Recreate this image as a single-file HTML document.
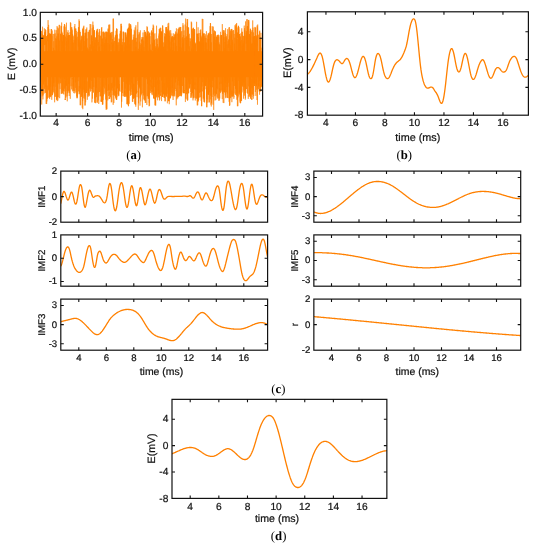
<!DOCTYPE html>
<html lang="en"><head><meta charset="utf-8"><title>Figure</title>
<style>html,body{margin:0;padding:0;background:#fff}svg{display:block}</style>
</head><body>
<svg width="537" height="550" viewBox="0 0 537 550" font-family="'Liberation Sans', Arial, sans-serif" fill="#111" stroke="#111" stroke-width="0.22" text-rendering="geometricPrecision">
<rect width="537" height="550" fill="#fff" stroke="none"/>
<rect x="40.30" y="51.26" width="222.30" height="25.94" fill="#ff8000" stroke="none"/>
<path d="M40.94,88.2 41.02,58.2 41.09,37.5 41.17,81.8 41.25,30.8 41.32,39.9 41.40,77.1 41.48,92.1 41.55,39.7 41.63,67.1 41.71,104.5 41.78,31.3 41.86,38.8 41.94,93.6 42.02,74.0 42.09,68.1 42.17,96.4 42.25,74.9 42.32,60.4 42.40,34.4 42.48,81.7 42.55,26.7 42.63,94.7 42.71,88.0 42.78,37.1 42.86,56.5 42.94,99.4 43.02,40.7 43.09,95.4 43.17,36.2 43.25,84.7 43.32,35.5 43.40,58.2 43.48,36.3 43.55,40.0 43.63,58.5 43.71,83.8 43.78,34.9 43.86,39.4 43.94,55.2 44.02,93.6 44.09,52.1 44.17,56.6 44.25,88.4 44.32,28.3 44.40,30.7 44.48,31.5 44.55,45.1 44.63,32.4 44.71,58.7 44.78,89.1 44.86,56.7 44.94,80.8 45.02,81.7 45.09,58.3 45.17,92.9 45.25,31.7 45.32,44.9 45.40,29.2 45.48,30.5 45.55,92.6 45.63,62.7 45.71,87.1 45.78,30.0 45.86,32.1 45.94,40.7 46.02,53.3 46.09,38.5 46.17,103.9 46.25,57.3 46.32,52.7 46.40,48.4 46.48,36.3 46.55,97.0 46.63,103.9 46.71,103.9 46.78,36.2 46.86,101.4 46.94,99.0 47.02,41.2 47.09,54.0 47.17,98.1 47.25,85.6 47.32,98.9 47.40,57.8 47.48,41.6 47.55,39.2 47.63,34.9 47.71,41.2 47.78,34.9 47.86,41.3 47.94,27.0 48.02,63.7 48.09,20.1 48.17,85.8 48.25,97.7 48.32,53.6 48.40,35.0 48.48,75.6 48.55,89.6 48.63,24.9 48.71,90.5 48.78,28.9 48.86,31.9 48.94,43.6 49.02,48.2 49.09,77.4 49.17,72.2 49.25,83.4 49.32,97.4 49.40,51.6 49.48,33.2 49.55,96.1 49.63,99.1 49.71,57.4 49.78,54.8 49.86,97.3 49.94,34.0 50.02,95.9 50.09,33.9 50.17,96.9 50.25,33.9 50.32,63.8 50.40,34.6 50.48,84.4 50.55,83.9 50.63,33.9 50.71,87.0 50.78,40.5 50.86,96.8 50.94,75.9 51.02,95.8 51.09,68.3 51.17,29.1 51.25,68.8 51.32,44.2 51.40,32.9 51.48,75.0 51.55,29.0 51.63,35.1 51.71,98.1 51.78,99.8 51.86,91.2 51.94,88.6 52.02,35.8 52.09,95.1 52.17,30.5 52.25,36.6 52.32,85.9 52.40,93.0 52.48,95.1 52.55,75.5 52.63,94.4 52.71,53.4 52.78,76.6 52.86,51.3 52.94,90.3 53.02,63.5 53.09,34.0 53.17,45.2 53.25,83.7 53.32,91.9 53.40,47.9 53.48,83.1 53.55,55.8 53.63,51.1 53.71,86.4 53.78,41.2 53.86,82.8 53.94,67.1 54.02,93.3 54.09,33.8 54.17,61.7 54.25,50.0 54.32,55.6 54.40,70.3 54.48,54.7 54.55,66.4 54.63,102.3 54.71,40.5 54.78,29.7 54.86,30.9 54.94,33.4 55.02,88.4 55.09,96.8 55.17,33.4 55.25,47.0 55.32,96.7 55.40,70.2 55.48,49.4 55.55,38.3 55.63,40.7 55.71,65.8 55.78,50.8 55.86,54.1 55.94,86.8 56.02,58.0 56.09,54.7 56.17,54.1 56.25,30.2 56.32,82.3 56.40,38.8 56.48,99.7 56.55,79.5 56.63,45.4 56.71,99.7 56.78,38.8 56.86,36.3 56.94,98.6 57.02,82.9 57.09,26.1 57.17,38.6 57.25,101.1 57.32,91.1 57.40,71.7 57.48,84.8 57.55,96.9 57.63,37.0 57.71,29.5 57.78,27.4 57.86,100.5 57.94,52.9 58.02,70.9 58.09,33.3 58.17,61.3 58.25,34.0 58.32,97.3 58.40,28.4 58.48,33.1 58.55,33.0 58.63,82.7 58.71,43.0 58.78,38.6 58.86,57.0 58.94,84.2 59.02,82.1 59.09,77.5 59.17,24.9 59.25,58.7 59.32,69.3 59.40,40.6 59.48,41.0 59.55,54.1 59.63,98.2 59.71,24.9 59.78,57.0 59.86,56.0 59.94,85.2 60.02,89.2 60.09,62.1 60.17,77.9 60.25,69.0 60.32,82.9 60.40,48.8 60.48,33.7 60.55,60.8 60.63,59.0 60.71,78.7 60.78,34.0 60.86,51.7 60.94,83.4 61.02,33.1 61.09,26.1 61.17,78.1 61.25,93.8 61.32,36.6 61.40,26.2 61.48,37.1 61.55,51.1 61.63,22.5 61.71,85.0 61.78,93.8 61.86,72.0 61.94,32.5 62.02,31.8 62.09,92.9 62.17,74.3 62.25,90.0 62.32,78.4 62.40,40.8 62.48,61.0 62.55,33.4 62.63,92.9 62.71,90.7 62.78,52.0 62.86,66.6 62.94,55.5 63.02,35.1 63.09,94.0 63.17,91.9 63.25,47.9 63.32,36.3 63.40,90.9 63.48,35.5 63.55,58.6 63.63,35.1 63.71,60.4 63.78,35.1 63.86,94.5 63.94,78.1 64.02,26.3 64.09,36.3 64.17,39.5 64.25,91.4 64.32,57.8 64.40,24.2 64.48,78.9 64.55,24.4 64.63,24.0 64.71,88.8 64.78,82.5 64.86,25.3 64.94,87.7 65.02,27.1 65.09,30.5 65.17,100.0 65.25,98.7 65.32,100.0 65.40,99.4 65.48,46.6 65.55,36.6 65.63,87.0 65.71,98.0 65.78,80.8 65.86,96.8 65.94,59.7 66.02,85.3 66.09,72.7 66.17,82.1 66.25,37.3 66.32,34.4 66.40,73.9 66.48,22.7 66.55,84.9 66.63,41.4 66.71,51.7 66.78,86.0 66.86,84.5 66.94,91.1 67.02,38.1 67.09,96.3 67.17,76.5 67.25,101.3 67.32,34.7 67.40,32.2 67.48,35.6 67.55,93.2 67.63,87.5 67.71,67.1 67.78,35.7 67.86,65.1 67.94,58.9 68.02,30.2 68.09,30.2 68.17,71.9 68.25,32.9 68.32,84.1 68.40,79.3 68.48,67.5 68.55,35.0 68.63,91.2 68.71,90.9 68.78,75.4 68.86,90.3 68.94,35.2 69.02,60.3 69.09,92.7 69.17,59.5 69.25,96.0 69.32,35.0 69.40,93.1 69.48,67.0 69.55,83.2 69.63,71.3 69.71,39.6 69.78,39.0 69.86,35.2 69.94,59.4 70.02,78.3 70.09,32.1 70.17,88.8 70.25,98.8 70.32,98.8 70.40,22.3 70.48,36.1 70.55,71.8 70.63,40.1 70.71,23.3 70.78,22.9 70.86,25.1 70.94,31.5 71.02,86.2 71.09,61.4 71.17,63.0 71.25,51.2 71.32,83.0 71.40,83.0 71.48,89.2 71.55,89.4 71.63,27.3 71.71,76.4 71.78,27.3 71.86,67.2 71.94,29.4 72.02,54.4 72.09,30.4 72.17,67.5 72.25,79.5 72.32,77.6 72.40,90.6 72.48,91.3 72.55,33.9 72.63,67.5 72.71,53.1 72.78,34.9 72.86,69.3 72.94,57.0 73.02,86.4 73.09,77.9 73.17,89.6 73.25,68.7 73.32,36.3 73.40,91.1 73.48,42.7 73.55,81.9 73.63,53.4 73.71,84.5 73.78,93.1 73.86,84.6 73.94,69.6 74.02,42.9 74.09,40.0 74.17,73.5 74.25,72.4 74.32,91.1 74.40,26.4 74.48,38.8 74.55,51.3 74.63,59.2 74.71,56.2 74.78,93.4 74.86,24.0 74.94,35.2 75.02,75.3 75.09,34.1 75.17,29.0 75.25,76.8 75.32,35.1 75.40,87.8 75.48,54.2 75.55,82.4 75.63,28.6 75.71,31.8 75.78,28.5 75.86,92.5 75.94,66.8 76.02,74.7 76.09,37.9 76.17,90.3 76.25,43.9 76.32,33.4 76.40,64.4 76.48,57.0 76.55,60.3 76.63,30.9 76.71,96.3 76.78,96.3 76.86,72.8 76.94,98.1 77.02,82.0 77.09,50.2 77.17,98.3 77.25,98.2 77.32,36.8 77.40,97.2 77.48,57.8 77.55,63.0 77.63,77.1 77.71,54.2 77.78,51.4 77.86,35.5 77.94,32.0 78.02,51.3 78.09,81.2 78.17,73.2 78.25,39.6 78.32,46.5 78.40,29.5 78.48,27.0 78.55,91.4 78.63,47.1 78.71,28.2 78.78,27.6 78.86,59.5 78.94,39.0 79.02,19.3 79.09,24.6 79.17,94.3 79.25,86.0 79.32,93.7 79.40,21.1 79.48,54.2 79.55,45.6 79.63,46.5 79.71,30.2 79.78,91.7 79.86,41.6 79.94,68.5 80.02,88.0 80.09,43.1 80.17,105.2 80.25,80.6 80.32,80.6 80.40,31.9 80.48,70.0 80.55,85.6 80.63,105.2 80.71,103.0 80.78,40.2 80.86,88.8 80.94,62.8 81.02,96.8 81.09,96.1 81.17,96.8 81.25,36.3 81.32,50.4 81.40,39.3 81.48,83.7 81.55,91.8 81.63,96.3 81.71,77.4 81.78,36.4 81.86,95.3 81.94,75.5 82.02,76.0 82.09,35.4 82.17,35.8 82.25,107.8 82.32,60.1 82.40,45.0 82.48,29.1 82.55,29.9 82.63,101.1 82.71,72.1 82.78,109.2 82.86,96.8 82.94,96.4 83.02,28.1 83.09,73.7 83.17,98.4 83.25,98.1 83.32,97.2 83.40,26.7 83.48,89.7 83.55,30.4 83.63,39.7 83.71,52.3 83.78,52.8 83.86,25.7 83.94,92.4 84.02,35.7 84.09,35.8 84.17,40.2 84.25,55.0 84.32,41.2 84.40,46.7 84.48,91.9 84.55,80.7 84.63,98.7 84.71,46.0 84.78,96.4 84.86,64.6 84.94,105.5 85.02,32.8 85.09,85.9 85.17,105.3 85.25,103.5 85.32,33.2 85.40,52.0 85.48,32.6 85.55,32.7 85.63,102.2 85.71,74.2 85.78,33.3 85.86,42.0 85.94,57.6 86.02,29.4 86.09,92.6 86.17,29.3 86.25,70.8 86.32,92.8 86.40,76.4 86.48,38.7 86.55,79.6 86.63,92.8 86.71,75.5 86.78,27.5 86.86,78.3 86.94,41.6 87.02,38.4 87.09,90.9 87.17,81.4 87.25,83.4 87.32,99.8 87.40,49.7 87.48,47.6 87.55,51.9 87.63,51.6 87.71,51.9 87.78,53.8 87.86,48.5 87.94,96.5 88.02,31.9 88.09,32.6 88.17,58.4 88.25,49.5 88.32,54.0 88.40,31.8 88.48,93.0 88.55,53.0 88.63,94.9 88.71,77.9 88.78,96.5 88.86,54.0 88.94,71.8 89.02,81.1 89.09,83.0 89.17,65.9 89.25,30.0 89.32,91.0 89.40,95.7 89.48,66.9 89.55,86.9 89.63,74.1 89.71,29.8 89.78,88.7 89.86,47.0 89.94,75.6 90.02,88.2 90.09,24.0 90.17,25.7 90.25,48.9 90.32,79.9 90.40,44.5 90.48,91.6 90.55,51.3 90.63,52.2 90.71,55.9 90.78,73.1 90.86,24.3 90.94,41.2 91.02,90.9 91.09,59.6 91.17,78.0 91.25,79.7 91.32,88.9 91.40,35.6 91.48,48.5 91.55,35.4 91.63,38.6 91.71,80.9 91.78,49.4 91.86,37.5 91.94,102.4 92.02,99.5 92.09,90.9 92.17,28.3 92.25,30.7 92.32,78.1 92.40,41.2 92.48,98.6 92.55,47.6 92.63,89.2 92.71,37.8 92.78,34.3 92.86,21.6 92.94,36.2 93.02,92.7 93.09,24.9 93.17,67.8 93.25,53.6 93.32,26.7 93.40,42.5 93.48,91.9 93.55,92.4 93.63,46.0 93.71,61.3 93.78,87.0 93.86,42.5 93.94,32.4 94.02,30.5 94.09,69.2 94.17,30.3 94.25,30.3 94.32,77.9 94.40,59.5 94.48,30.3 94.55,69.3 94.63,102.4 94.71,92.7 94.78,98.5 94.86,86.9 94.94,42.5 95.02,103.0 95.09,93.4 95.17,72.0 95.25,39.9 95.32,91.5 95.40,37.8 95.48,77.1 95.55,103.2 95.63,56.4 95.71,37.3 95.78,64.6 95.86,71.9 95.94,97.2 96.02,75.5 96.09,95.2 96.17,49.6 96.25,97.1 96.32,83.2 96.40,32.2 96.48,87.6 96.55,30.8 96.63,34.6 96.71,54.9 96.78,35.8 96.86,30.6 96.94,102.6 97.02,38.7 97.09,30.0 97.17,29.0 97.25,83.3 97.32,102.6 97.40,102.6 97.48,102.5 97.55,99.1 97.63,74.5 97.71,28.8 97.78,32.2 97.86,93.2 97.94,39.8 98.02,45.5 98.09,39.0 98.17,32.4 98.25,37.5 98.32,100.4 98.40,42.0 98.48,43.2 98.55,47.2 98.63,66.5 98.71,103.9 98.78,101.9 98.86,91.0 98.94,35.0 99.02,76.5 99.09,46.7 99.17,91.8 99.25,46.7 99.32,73.8 99.40,60.0 99.48,46.9 99.55,29.1 99.63,92.0 99.71,92.0 99.78,32.2 99.86,31.4 99.94,77.8 100.02,91.1 100.09,96.4 100.17,74.1 100.25,78.1 100.32,36.1 100.40,81.6 100.48,85.6 100.55,96.1 100.63,93.8 100.71,93.8 100.78,73.1 100.86,35.5 100.94,60.8 101.02,98.3 101.09,101.9 101.17,99.8 101.25,101.3 101.32,44.5 101.40,101.7 101.48,27.9 101.55,46.0 101.63,38.5 101.71,30.9 101.78,27.0 101.86,31.6 101.94,101.7 102.02,38.9 102.09,96.9 102.17,96.3 102.25,100.5 102.32,31.8 102.40,104.5 102.48,38.5 102.55,104.5 102.63,97.5 102.71,41.7 102.78,61.1 102.86,104.5 102.94,95.3 103.02,59.4 103.09,100.1 103.17,81.8 103.25,70.4 103.32,96.2 103.40,31.8 103.48,56.6 103.55,66.6 103.63,33.4 103.71,31.6 103.78,86.7 103.86,65.3 103.94,45.8 104.02,32.7 104.09,57.4 104.17,77.9 104.25,44.5 104.32,65.3 104.40,32.7 104.48,88.4 104.55,75.5 104.63,43.0 104.71,71.4 104.78,94.3 104.86,55.3 104.94,42.8 105.02,37.2 105.09,38.6 105.17,92.6 105.25,32.9 105.32,31.8 105.40,32.6 105.48,75.2 105.55,50.2 105.63,39.4 105.71,99.5 105.78,78.1 105.86,66.5 105.94,85.3 106.02,31.8 106.09,32.1 106.17,109.8 106.25,31.8 106.32,102.8 106.40,108.0 106.48,42.9 106.55,37.8 106.63,109.1 106.71,31.7 106.78,81.1 106.86,109.3 106.94,46.6 107.02,32.3 107.09,57.6 107.17,90.6 107.25,91.0 107.32,64.0 107.40,68.8 107.48,77.9 107.55,58.4 107.63,32.2 107.71,52.9 107.78,100.4 107.86,43.0 107.94,76.3 108.02,60.0 108.09,28.5 108.17,42.2 108.25,64.1 108.32,29.5 108.40,83.4 108.48,96.1 108.55,84.3 108.63,90.1 108.71,85.2 108.78,56.5 108.86,90.5 108.94,24.6 109.02,89.8 109.09,25.1 109.17,99.0 109.25,97.5 109.32,98.9 109.40,92.1 109.48,95.4 109.55,44.4 109.63,58.1 109.71,76.0 109.78,24.5 109.86,76.0 109.94,34.9 110.02,98.5 110.09,32.7 110.17,66.6 110.25,81.4 110.32,92.6 110.40,61.9 110.48,97.0 110.55,68.9 110.63,32.7 110.71,35.6 110.78,40.0 110.86,33.6 110.94,39.3 111.02,49.9 111.09,35.4 111.17,99.5 111.25,102.1 111.32,102.4 111.40,93.5 111.48,83.1 111.55,90.3 111.63,42.5 111.71,101.4 111.78,101.9 111.86,32.0 111.94,40.6 112.02,44.1 112.09,31.8 112.17,85.7 112.25,88.1 112.32,85.8 112.40,39.0 112.48,52.6 112.55,44.3 112.63,85.6 112.71,90.6 112.78,89.7 112.86,82.6 112.94,95.2 113.02,71.1 113.09,18.6 113.17,104.8 113.25,42.6 113.32,53.9 113.40,83.0 113.48,18.7 113.55,21.3 113.63,29.9 113.71,94.6 113.78,55.8 113.86,102.9 113.94,93.8 114.02,53.6 114.09,41.0 114.17,89.3 114.25,95.0 114.32,41.0 114.40,63.1 114.48,86.0 114.55,86.4 114.63,55.2 114.71,74.2 114.78,96.0 114.86,41.8 114.94,37.4 115.02,39.8 115.09,87.0 115.17,92.8 115.25,44.3 115.32,35.4 115.40,46.9 115.48,97.2 115.55,91.3 115.63,98.5 115.71,64.2 115.78,35.5 115.86,36.1 115.94,73.6 116.02,30.8 116.09,50.5 116.17,85.6 116.25,34.4 116.32,97.1 116.40,99.8 116.48,36.2 116.55,99.8 116.63,28.2 116.71,99.7 116.78,29.1 116.86,97.2 116.94,29.0 117.02,36.4 117.09,88.1 117.17,58.7 117.25,88.3 117.32,87.6 117.40,34.6 117.48,88.2 117.55,52.3 117.63,88.2 117.71,87.0 117.78,72.3 117.86,45.1 117.94,53.5 118.02,94.5 118.09,42.4 118.17,72.6 118.25,96.1 118.32,42.4 118.40,43.2 118.48,93.9 118.55,79.7 118.63,95.0 118.71,80.9 118.78,96.1 118.86,96.0 118.94,71.2 119.02,38.6 119.09,59.0 119.17,90.7 119.25,87.3 119.32,84.0 119.40,90.7 119.48,87.6 119.55,58.3 119.63,46.5 119.71,39.3 119.78,65.2 119.86,77.3 119.94,33.6 120.02,75.8 120.09,91.7 120.17,43.6 120.25,71.4 120.32,30.9 120.40,63.2 120.48,73.2 120.55,54.1 120.63,73.1 120.71,30.9 120.78,37.8 120.86,67.3 120.94,23.9 121.02,36.5 121.09,59.5 121.17,34.9 121.25,23.8 121.32,43.9 121.40,48.4 121.48,107.6 121.55,26.0 121.63,52.8 121.71,101.7 121.78,47.2 121.86,96.1 121.94,82.9 122.02,48.0 122.09,44.7 122.17,88.0 122.25,45.1 122.32,79.1 122.40,89.9 122.48,42.1 122.55,93.1 122.63,53.9 122.71,70.2 122.78,62.6 122.86,53.7 122.94,81.5 123.02,31.6 123.09,53.9 123.17,38.7 123.25,75.2 123.32,96.2 123.40,96.1 123.48,58.4 123.55,31.7 123.63,40.7 123.71,32.1 123.78,33.2 123.86,81.8 123.94,58.4 124.02,60.3 124.09,68.4 124.17,75.0 124.25,42.5 124.32,96.8 124.40,42.4 124.48,93.1 124.55,91.0 124.63,96.6 124.71,56.3 124.78,46.9 124.86,94.9 124.94,93.9 125.02,32.6 125.09,43.8 125.17,88.5 125.25,48.3 125.32,43.7 125.40,32.6 125.48,33.2 125.55,53.7 125.63,32.9 125.71,76.9 125.78,96.6 125.86,42.9 125.94,32.6 126.02,96.5 126.09,34.5 126.17,96.6 126.25,58.8 126.32,83.7 126.40,48.9 126.48,37.2 126.55,59.2 126.63,45.6 126.71,89.1 126.78,94.6 126.86,96.6 126.94,104.1 127.02,55.1 127.09,43.0 127.17,35.9 127.25,104.2 127.32,83.8 127.40,29.4 127.48,92.9 127.55,32.9 127.63,103.0 127.71,29.4 127.78,52.5 127.86,89.9 127.94,104.7 128.02,65.3 128.09,31.5 128.17,27.9 128.25,47.4 128.32,29.3 128.40,106.3 128.48,27.8 128.55,105.8 128.63,27.8 128.71,97.7 128.78,29.3 128.86,28.1 128.94,36.8 129.02,23.6 129.09,87.1 129.17,103.8 129.25,44.4 129.32,84.6 129.40,27.3 129.48,23.6 129.55,67.2 129.63,26.3 129.71,83.1 129.78,90.7 129.86,56.5 129.94,81.4 130.02,51.2 130.09,57.2 130.17,56.9 130.25,24.6 130.32,29.6 130.40,70.5 130.48,95.4 130.55,95.8 130.63,24.1 130.71,92.7 130.78,94.7 130.86,25.5 130.94,91.8 131.02,28.6 131.09,32.5 131.17,88.9 131.25,56.1 131.32,32.6 131.40,31.8 131.48,29.3 131.55,82.9 131.63,58.2 131.71,79.0 131.78,94.9 131.86,75.6 131.94,40.3 132.02,47.9 132.09,87.1 132.17,55.9 132.25,59.2 132.32,90.0 132.40,101.6 132.48,87.0 132.55,39.7 132.63,92.4 132.71,63.7 132.78,101.9 132.86,58.4 132.94,94.6 133.02,93.6 133.09,98.0 133.17,42.6 133.25,34.6 133.32,88.7 133.40,98.7 133.48,93.5 133.55,83.8 133.63,98.7 133.71,39.6 133.78,54.9 133.86,37.2 133.94,97.3 134.02,83.9 134.09,91.8 134.17,53.3 134.25,29.8 134.32,39.7 134.40,43.8 134.48,59.6 134.55,93.5 134.63,97.9 134.71,43.0 134.78,31.3 134.86,99.3 134.94,104.2 135.02,92.5 135.09,103.6 135.17,27.3 135.25,62.8 135.32,104.5 135.40,38.0 135.48,41.3 135.55,56.3 135.63,104.8 135.71,51.4 135.78,106.7 135.86,25.3 135.94,82.9 136.02,47.1 136.09,89.4 136.17,92.8 136.25,89.5 136.32,93.9 136.40,66.1 136.48,77.0 136.55,41.7 136.63,92.9 136.71,38.6 136.78,37.8 136.86,63.9 136.94,77.1 137.02,97.2 137.09,91.4 137.17,92.2 137.25,81.9 137.32,34.7 137.40,29.6 137.48,75.7 137.55,50.7 137.63,80.8 137.71,30.4 137.78,22.8 137.86,21.9 137.94,30.3 138.02,84.6 138.09,80.8 138.17,34.5 138.25,56.8 138.32,109.9 138.40,48.8 138.48,84.3 138.55,103.3 138.63,77.1 138.71,74.5 138.78,98.5 138.86,93.3 138.94,52.8 139.02,85.7 139.09,32.0 139.17,32.0 139.25,86.9 139.32,39.6 139.40,33.4 139.48,86.2 139.55,41.7 139.63,88.4 139.71,77.1 139.78,47.2 139.86,86.2 139.94,86.0 140.02,105.6 140.09,45.0 140.17,80.7 140.25,42.7 140.32,30.3 140.40,97.2 140.48,94.1 140.55,64.0 140.63,94.5 140.71,101.4 140.78,43.3 140.86,49.2 140.94,92.7 141.02,55.1 141.09,95.4 141.17,49.5 141.25,49.2 141.32,69.4 141.40,71.1 141.48,40.0 141.55,94.2 141.63,67.6 141.71,44.0 141.78,71.2 141.86,39.0 141.94,41.4 142.02,37.2 142.09,53.0 142.17,37.1 142.25,37.1 142.32,41.7 142.40,107.3 142.48,87.8 142.55,38.9 142.63,44.5 142.71,53.0 142.78,50.7 142.86,58.9 142.94,93.1 143.02,32.5 143.09,36.0 143.17,77.0 143.25,54.2 143.32,37.2 143.40,59.5 143.48,65.0 143.55,95.4 143.63,84.6 143.71,40.6 143.78,48.7 143.86,71.1 143.94,99.1 144.02,46.9 144.09,99.6 144.17,100.3 144.25,34.0 144.32,30.0 144.40,82.3 144.48,97.6 144.55,98.6 144.63,100.4 144.71,98.8 144.78,57.8 144.86,78.0 144.94,52.2 145.02,32.0 145.09,99.4 145.17,32.2 145.25,102.9 145.32,98.9 145.40,40.7 145.48,32.3 145.55,31.7 145.63,54.7 145.71,102.8 145.78,34.9 145.86,46.4 145.94,41.3 146.02,34.3 146.09,33.5 146.17,39.2 146.25,66.0 146.32,37.3 146.40,79.3 146.48,36.2 146.55,55.9 146.63,62.5 146.71,61.3 146.78,66.0 146.86,105.0 146.94,26.3 147.02,92.5 147.09,96.4 147.17,65.9 147.25,32.7 147.32,51.7 147.40,95.9 147.48,27.2 147.55,42.7 147.63,83.3 147.71,60.4 147.78,84.1 147.86,80.6 147.94,31.7 148.02,67.8 148.09,86.7 148.17,98.6 148.25,51.4 148.32,67.3 148.40,31.4 148.48,68.5 148.55,98.8 148.63,54.7 148.71,97.2 148.78,93.6 148.86,87.7 148.94,49.3 149.02,34.3 149.09,106.3 149.17,34.0 149.25,102.8 149.32,50.3 149.40,84.9 149.48,60.9 149.55,105.7 149.63,32.8 149.71,68.1 149.78,35.8 149.86,32.6 149.94,56.1 150.02,36.9 150.09,36.2 150.17,75.8 150.25,44.4 150.32,93.1 150.40,79.9 150.48,83.1 150.55,90.7 150.63,59.3 150.71,72.8 150.78,49.7 150.86,61.9 150.94,82.5 151.02,50.1 151.09,86.7 151.17,68.2 151.25,92.3 151.32,92.5 151.40,31.3 151.48,34.8 151.55,30.3 151.63,54.4 151.71,80.5 151.78,88.9 151.86,33.7 151.94,94.3 152.02,85.9 152.09,91.8 152.17,54.0 152.25,95.2 152.32,90.7 152.40,76.8 152.48,42.8 152.55,50.0 152.63,32.5 152.71,34.4 152.78,32.3 152.86,92.3 152.94,27.9 153.02,78.9 153.09,44.4 153.17,24.6 153.25,87.2 153.32,68.9 153.40,90.5 153.48,61.9 153.55,98.1 153.63,25.7 153.71,37.2 153.78,98.0 153.86,34.1 153.94,99.0 154.02,40.3 154.09,42.1 154.17,39.9 154.25,76.3 154.32,75.6 154.40,39.8 154.48,44.4 154.55,53.8 154.63,42.6 154.71,87.1 154.78,57.5 154.86,99.1 154.94,33.3 155.02,47.9 155.09,105.5 155.17,92.2 155.25,105.0 155.32,46.3 155.40,84.4 155.48,103.4 155.55,47.9 155.63,98.6 155.71,105.6 155.78,71.7 155.86,79.0 155.94,96.8 156.02,38.9 156.09,97.7 156.17,56.5 156.25,96.8 156.32,46.7 156.40,77.0 156.48,94.4 156.55,25.7 156.63,71.8 156.71,55.4 156.78,78.8 156.86,59.5 156.94,68.6 157.02,39.7 157.09,79.6 157.17,96.3 157.25,52.9 157.32,38.5 157.40,38.4 157.48,56.8 157.55,44.0 157.63,100.3 157.71,49.0 157.78,84.8 157.86,79.7 157.94,90.5 158.02,86.1 158.09,81.1 158.17,97.3 158.25,49.1 158.32,93.9 158.40,48.0 158.48,53.7 158.55,49.6 158.63,94.7 158.71,46.6 158.78,97.3 158.86,57.9 158.94,35.7 159.02,84.0 159.09,33.5 159.17,71.4 159.25,29.0 159.32,30.4 159.40,54.9 159.48,29.9 159.55,100.5 159.63,80.4 159.71,95.3 159.78,99.5 159.86,51.5 159.94,28.5 160.02,42.7 160.09,93.5 160.17,37.0 160.25,27.8 160.32,59.5 160.40,30.9 160.48,95.8 160.55,93.7 160.63,95.6 160.71,93.0 160.78,27.8 160.86,66.6 160.94,31.6 161.02,71.2 161.09,48.2 161.17,92.3 161.25,31.5 161.32,46.0 161.40,79.8 161.48,32.4 161.55,101.1 161.63,56.4 161.71,31.8 161.78,61.8 161.86,31.5 161.94,80.9 162.02,58.5 162.09,80.2 162.17,96.9 162.25,41.0 162.32,66.9 162.40,43.5 162.48,97.0 162.55,25.6 162.63,94.8 162.71,25.5 162.78,97.0 162.86,29.7 162.94,52.9 163.02,49.0 163.09,50.8 163.17,47.2 163.25,93.9 163.32,57.9 163.40,94.4 163.48,46.8 163.55,62.0 163.63,42.4 163.71,87.6 163.78,91.5 163.86,94.4 163.94,97.1 164.02,97.5 164.09,52.3 164.17,86.1 164.25,46.5 164.32,97.8 164.40,83.3 164.48,97.8 164.55,33.2 164.63,70.9 164.71,58.4 164.78,36.4 164.86,67.7 164.94,101.3 165.02,36.9 165.09,54.0 165.17,44.7 165.25,79.8 165.32,99.5 165.40,101.2 165.48,34.1 165.55,42.0 165.63,94.8 165.71,70.5 165.78,33.9 165.86,34.5 165.94,27.3 166.02,95.6 166.09,27.0 166.17,38.1 166.25,83.6 166.32,96.5 166.40,28.5 166.48,32.0 166.55,96.6 166.63,27.0 166.71,93.7 166.78,52.5 166.86,85.2 166.94,56.1 167.02,67.9 167.09,62.2 167.17,60.8 167.25,61.9 167.32,102.9 167.40,103.3 167.48,102.4 167.55,30.9 167.63,29.3 167.71,87.5 167.78,31.0 167.86,45.1 167.94,93.9 168.02,23.5 168.09,97.7 168.17,58.7 168.25,26.1 168.32,48.7 168.40,39.5 168.48,101.1 168.55,55.0 168.63,100.3 168.71,22.8 168.78,26.1 168.86,101.1 168.94,74.8 169.02,101.2 169.09,81.4 169.17,32.3 169.25,104.2 169.32,35.7 169.40,57.7 169.48,30.5 169.55,32.1 169.63,90.8 169.71,48.6 169.78,40.3 169.86,98.7 169.94,41.8 170.02,98.1 170.09,78.5 170.17,66.6 170.25,63.2 170.32,98.2 170.40,48.9 170.48,50.7 170.55,97.7 170.63,30.2 170.71,30.2 170.78,38.9 170.86,78.1 170.94,33.4 171.02,70.4 171.09,47.2 171.17,85.4 171.25,92.5 171.32,37.5 171.40,51.7 171.48,39.6 171.55,95.3 171.63,70.5 171.71,40.9 171.78,37.4 171.86,91.1 171.94,96.3 172.02,36.2 172.09,41.9 172.17,36.3 172.25,75.6 172.32,87.9 172.40,74.8 172.48,49.8 172.55,95.7 172.63,58.7 172.71,57.5 172.78,36.2 172.86,93.0 172.94,69.5 173.02,37.8 173.09,100.0 173.17,40.4 173.25,33.3 173.32,40.7 173.40,68.2 173.48,38.3 173.55,37.1 173.63,96.3 173.71,89.0 173.78,70.2 173.86,42.7 173.94,66.3 174.02,78.5 174.09,95.7 174.17,92.9 174.25,74.1 174.32,94.3 174.40,34.7 174.48,40.0 174.55,36.8 174.63,44.7 174.71,74.3 174.78,96.4 174.86,96.4 174.94,77.8 175.02,34.1 175.09,41.5 175.17,89.1 175.25,33.5 175.32,73.8 175.40,43.4 175.48,82.4 175.55,31.5 175.63,52.2 175.71,50.9 175.78,88.6 175.86,34.5 175.94,78.8 176.02,60.0 176.09,91.0 176.17,88.3 176.25,105.3 176.32,88.7 176.40,28.3 176.48,71.1 176.55,55.9 176.63,45.8 176.71,99.5 176.78,90.6 176.86,35.2 176.94,32.5 177.02,55.9 177.09,57.6 177.17,89.7 177.25,96.2 177.32,97.2 177.40,36.8 177.48,33.7 177.55,36.7 177.63,71.1 177.71,98.5 177.78,62.6 177.86,85.3 177.94,58.5 178.02,28.9 178.09,87.9 178.17,97.2 178.25,96.1 178.32,74.7 178.40,29.5 178.48,80.9 178.55,43.2 178.63,96.8 178.71,30.5 178.78,74.1 178.86,31.4 178.94,27.6 179.02,53.1 179.09,34.2 179.17,80.5 179.25,27.9 179.32,50.3 179.40,77.4 179.48,85.5 179.55,47.1 179.63,96.1 179.71,87.9 179.78,71.5 179.86,96.1 179.94,26.9 180.02,88.7 180.09,70.4 180.17,94.4 180.25,27.3 180.32,65.6 180.40,33.6 180.48,64.3 180.55,95.7 180.63,59.0 180.71,92.9 180.78,27.0 180.86,43.6 180.94,74.5 181.02,71.6 181.09,31.6 181.17,84.5 181.25,96.2 181.32,47.6 181.40,96.2 181.48,93.2 181.55,76.5 181.63,79.0 181.71,94.6 181.78,39.5 181.86,30.9 181.94,84.8 182.02,85.7 182.09,84.2 182.17,38.4 182.25,57.9 182.32,51.8 182.40,37.1 182.48,68.9 182.55,55.2 182.63,74.3 182.71,86.0 182.78,43.1 182.86,49.2 182.94,23.2 183.02,92.4 183.09,45.7 183.17,25.4 183.25,93.2 183.32,43.8 183.40,92.8 183.48,72.5 183.55,39.5 183.63,92.6 183.71,58.2 183.78,35.2 183.86,93.2 183.94,52.2 184.02,33.9 184.09,30.4 184.17,30.5 184.25,81.0 184.32,93.2 184.40,92.4 184.48,93.1 184.55,90.0 184.63,91.2 184.71,83.9 184.78,37.9 184.86,46.3 184.94,77.7 185.02,67.8 185.09,24.5 185.17,33.7 185.25,71.7 185.32,101.9 185.40,101.9 185.48,101.9 185.55,54.2 185.63,18.6 185.71,73.8 185.78,98.6 185.86,63.5 185.94,37.6 186.02,77.6 186.09,51.2 186.17,93.3 186.25,94.2 186.32,36.7 186.40,72.5 186.48,89.6 186.55,40.2 186.63,44.6 186.71,62.4 186.78,93.9 186.86,36.2 186.94,99.5 187.02,26.2 187.09,68.6 187.17,19.1 187.25,38.4 187.32,22.4 187.40,54.5 187.48,100.7 187.55,33.6 187.63,19.1 187.71,43.3 187.78,100.2 187.86,75.3 187.94,79.3 188.02,71.4 188.09,37.8 188.17,35.0 188.25,48.5 188.32,27.3 188.40,49.2 188.48,93.2 188.55,57.0 188.63,27.6 188.71,93.3 188.78,77.7 188.86,81.7 188.94,71.3 189.02,38.2 189.09,38.3 189.17,83.8 189.25,76.3 189.32,33.8 189.40,87.5 189.48,46.3 189.55,88.6 189.63,72.2 189.71,79.0 189.78,79.0 189.86,87.7 189.94,82.1 190.02,79.9 190.09,72.3 190.17,74.3 190.25,41.3 190.32,52.1 190.40,73.7 190.48,84.2 190.55,38.4 190.63,48.7 190.71,92.0 190.78,56.3 190.86,85.5 190.94,97.9 191.02,92.8 191.09,97.6 191.17,77.7 191.25,21.6 191.32,26.0 191.40,78.7 191.48,48.7 191.55,94.6 191.63,22.4 191.71,31.8 191.78,29.3 191.86,96.5 191.94,92.6 192.02,52.6 192.09,31.3 192.17,93.1 192.25,29.3 192.32,41.1 192.40,66.0 192.48,39.0 192.55,47.3 192.63,93.1 192.71,62.5 192.78,89.6 192.86,70.7 192.94,28.4 193.02,100.4 193.09,81.6 193.17,98.1 193.25,36.1 193.32,28.1 193.40,95.3 193.48,27.7 193.55,57.7 193.63,36.6 193.71,98.3 193.78,70.6 193.86,97.2 193.94,80.3 194.02,29.1 194.09,62.9 194.17,32.4 194.25,89.1 194.32,89.0 194.40,84.8 194.48,30.2 194.55,29.1 194.63,48.7 194.71,29.5 194.78,89.4 194.86,82.5 194.94,84.9 195.02,42.4 195.09,76.9 195.17,98.0 195.25,43.8 195.32,100.5 195.40,54.1 195.48,48.3 195.55,44.2 195.63,55.3 195.71,43.3 195.78,56.0 195.86,56.8 195.94,90.2 196.02,52.6 196.09,60.4 196.17,58.8 196.25,82.6 196.32,98.8 196.40,58.2 196.48,45.9 196.55,21.8 196.63,22.0 196.71,56.3 196.78,98.2 196.86,97.6 196.94,33.8 197.02,56.3 197.09,92.4 197.17,93.6 197.25,105.4 197.32,33.8 197.40,101.2 197.48,82.4 197.55,33.8 197.63,33.9 197.71,105.2 197.78,60.2 197.86,33.8 197.94,51.9 198.02,101.3 198.09,27.3 198.17,37.8 198.25,101.4 198.32,90.2 198.40,37.0 198.48,81.7 198.55,64.9 198.63,100.0 198.71,75.4 198.78,33.2 198.86,44.4 198.94,98.0 199.02,41.8 199.09,91.7 199.17,97.1 199.25,47.9 199.32,42.3 199.40,41.4 199.48,49.3 199.55,92.8 199.63,41.9 199.71,77.6 199.78,48.7 199.86,54.4 199.94,62.5 200.02,33.0 200.09,34.9 200.17,65.7 200.25,30.2 200.32,79.5 200.40,92.1 200.48,32.9 200.55,97.2 200.63,65.8 200.71,68.8 200.78,29.4 200.86,50.6 200.94,36.3 201.02,57.0 201.09,98.6 201.17,100.8 201.25,38.4 201.32,51.7 201.40,37.3 201.48,61.2 201.55,106.1 201.63,42.2 201.71,106.2 201.78,65.3 201.86,45.8 201.94,44.7 202.02,47.3 202.09,35.5 202.17,86.6 202.25,18.8 202.32,91.4 202.40,31.6 202.48,31.7 202.55,82.2 202.63,81.2 202.71,81.2 202.78,81.0 202.86,19.0 202.94,53.4 203.02,33.7 203.09,48.3 203.17,33.8 203.25,99.3 203.32,87.2 203.40,97.8 203.48,95.9 203.55,93.6 203.63,33.7 203.71,98.1 203.78,42.5 203.86,60.7 203.94,33.9 204.02,57.5 204.09,102.0 204.17,33.1 204.25,101.4 204.32,74.9 204.40,101.7 204.48,80.7 204.55,102.5 204.63,101.6 204.71,101.0 204.78,43.4 204.86,36.1 204.94,54.2 205.02,89.3 205.09,37.8 205.17,39.2 205.25,86.0 205.32,61.4 205.40,34.3 205.48,68.5 205.55,55.1 205.63,71.7 205.71,85.4 205.78,42.2 205.86,86.1 205.94,42.3 206.02,38.1 206.09,41.5 206.17,82.3 206.25,56.9 206.32,70.0 206.40,31.2 206.48,98.8 206.55,42.7 206.63,107.1 206.71,105.5 206.78,87.5 206.86,107.3 206.94,66.2 207.02,49.1 207.09,99.9 207.17,102.6 207.25,90.8 207.32,58.6 207.40,54.9 207.48,40.1 207.55,35.3 207.63,59.1 207.71,99.6 207.78,84.9 207.86,38.9 207.94,93.6 208.02,87.7 208.09,33.5 208.17,77.2 208.25,94.6 208.32,52.0 208.40,94.6 208.48,88.8 208.55,33.5 208.63,94.6 208.71,33.5 208.78,58.8 208.86,51.2 208.94,102.4 209.02,39.4 209.09,84.5 209.17,35.7 209.25,35.3 209.32,32.4 209.40,102.3 209.48,102.2 209.55,61.7 209.63,53.5 209.71,78.2 209.78,92.2 209.86,33.9 209.94,36.0 210.02,40.0 210.09,26.1 210.17,99.5 210.25,37.9 210.32,37.6 210.40,23.0 210.48,87.0 210.55,23.3 210.63,65.9 210.71,35.6 210.78,95.7 210.86,26.2 210.94,104.7 211.02,99.4 211.09,81.3 211.17,53.6 211.25,106.5 211.32,93.7 211.40,42.3 211.48,65.4 211.55,103.2 211.63,34.0 211.71,73.2 211.78,84.2 211.86,86.2 211.94,96.6 212.02,97.0 212.09,58.6 212.17,75.6 212.25,67.4 212.32,79.4 212.40,54.1 212.48,87.3 212.55,26.4 212.63,27.6 212.71,30.4 212.78,29.7 212.86,81.0 212.94,60.8 213.02,104.7 213.09,53.6 213.17,47.5 213.25,26.6 213.32,48.4 213.40,94.6 213.48,90.7 213.55,33.3 213.63,95.4 213.71,109.9 213.78,41.7 213.86,47.5 213.94,93.4 214.02,73.8 214.09,30.8 214.17,71.1 214.25,35.3 214.32,30.5 214.40,71.6 214.48,36.9 214.55,83.3 214.63,96.3 214.71,64.6 214.78,64.1 214.86,88.2 214.94,90.4 215.02,100.5 215.09,44.0 215.17,31.5 215.25,55.1 215.32,74.4 215.40,60.6 215.48,31.5 215.55,57.9 215.63,94.5 215.71,95.6 215.78,39.8 215.86,100.1 215.94,87.4 216.02,43.4 216.09,93.1 216.17,93.4 216.25,89.4 216.32,48.5 216.40,36.8 216.48,94.2 216.55,92.6 216.63,36.7 216.71,55.6 216.78,83.2 216.86,88.0 216.94,35.2 217.02,35.9 217.09,97.4 217.17,71.0 217.25,37.7 217.32,92.5 217.40,98.6 217.48,87.7 217.55,35.1 217.63,88.0 217.71,89.3 217.78,71.7 217.86,49.6 217.94,34.8 218.02,34.7 218.09,44.0 218.17,54.8 218.25,58.2 218.32,50.8 218.40,47.4 218.48,34.8 218.55,35.5 218.63,98.3 218.71,96.4 218.78,46.3 218.86,36.6 218.94,100.9 219.02,42.4 219.09,63.0 219.17,100.3 219.25,62.7 219.32,51.4 219.40,44.2 219.48,84.4 219.55,82.3 219.63,91.2 219.71,88.2 219.78,98.5 219.86,45.2 219.94,59.3 220.02,63.4 220.09,35.1 220.17,39.3 220.25,92.0 220.32,55.4 220.40,88.7 220.48,93.1 220.55,35.2 220.63,31.8 220.71,69.5 220.78,71.6 220.86,62.8 220.94,83.4 221.02,82.7 221.09,83.6 221.17,76.7 221.25,35.1 221.32,90.5 221.40,36.6 221.48,35.1 221.55,39.5 221.63,68.3 221.71,35.0 221.78,41.3 221.86,80.1 221.94,92.1 222.02,59.8 222.09,90.5 222.17,64.5 222.25,99.1 222.32,24.1 222.40,73.0 222.48,93.1 222.55,88.3 222.63,63.6 222.71,71.4 222.78,94.0 222.86,69.4 222.94,33.5 223.02,30.4 223.09,97.3 223.17,102.8 223.25,85.8 223.32,35.7 223.40,32.5 223.48,30.2 223.55,91.9 223.63,32.0 223.71,33.4 223.78,50.2 223.86,103.1 223.94,91.8 224.02,84.9 224.09,37.1 224.17,51.8 224.25,92.3 224.32,91.6 224.40,30.4 224.48,67.3 224.55,91.9 224.63,76.3 224.71,79.4 224.78,48.0 224.86,92.5 224.94,80.5 225.02,42.0 225.09,82.6 225.17,39.4 225.25,35.1 225.32,33.0 225.40,95.1 225.48,70.2 225.55,28.2 225.63,29.2 225.71,98.2 225.78,36.9 225.86,97.3 225.94,62.2 226.02,74.3 226.09,81.1 226.17,65.5 226.25,36.1 226.32,46.2 226.40,91.0 226.48,92.2 226.55,92.2 226.63,37.6 226.71,75.9 226.78,87.1 226.86,54.7 226.94,51.6 227.02,34.2 227.09,97.8 227.17,44.3 227.25,63.2 227.32,93.5 227.40,93.7 227.48,75.3 227.55,97.8 227.63,95.6 227.71,29.2 227.78,57.6 227.86,81.3 227.94,41.3 228.02,84.3 228.09,86.6 228.17,60.2 228.25,98.2 228.32,90.0 228.40,80.7 228.48,61.7 228.55,44.6 228.63,45.0 228.71,39.3 228.78,82.9 228.86,39.9 228.94,48.0 229.02,27.6 229.09,63.0 229.17,101.8 229.25,39.2 229.32,27.0 229.40,27.6 229.48,105.8 229.55,78.5 229.63,35.6 229.71,100.3 229.78,62.8 229.86,105.4 229.94,70.7 230.02,60.4 230.09,98.3 230.17,30.2 230.25,66.9 230.32,60.1 230.40,31.2 230.48,42.3 230.55,48.7 230.63,81.0 230.71,98.0 230.78,72.3 230.86,45.3 230.94,89.0 231.02,94.4 231.09,29.0 231.17,93.0 231.25,96.5 231.32,34.5 231.40,57.3 231.48,58.8 231.55,72.7 231.63,29.0 231.71,50.0 231.78,28.9 231.86,102.2 231.94,90.6 232.02,96.5 232.09,96.7 232.17,47.6 232.25,96.1 232.32,30.9 232.40,49.5 232.48,81.4 232.55,39.8 232.63,76.0 232.71,41.8 232.78,96.7 232.86,96.2 232.94,78.9 233.02,60.6 233.09,30.0 233.17,47.3 233.25,95.1 233.32,76.8 233.40,80.0 233.48,96.0 233.55,86.8 233.63,30.3 233.71,53.9 233.78,98.9 233.86,98.8 233.94,96.3 234.02,97.2 234.09,80.5 234.17,33.9 234.25,46.0 234.32,54.3 234.40,43.7 234.48,45.6 234.55,85.9 234.63,67.1 234.71,37.7 234.78,40.9 234.86,93.5 234.94,26.0 235.02,25.2 235.09,68.1 235.17,80.0 235.25,71.8 235.32,65.6 235.40,94.6 235.48,85.9 235.55,49.8 235.63,89.0 235.71,26.4 235.78,27.7 235.86,87.5 235.94,24.1 236.02,95.1 236.09,90.3 236.17,24.5 236.25,88.7 236.32,61.4 236.40,56.6 236.48,68.5 236.55,95.7 236.63,23.0 236.71,85.7 236.78,93.5 236.86,28.1 236.94,89.9 237.02,100.0 237.09,81.5 237.17,39.1 237.25,99.0 237.32,56.3 237.40,106.2 237.48,57.3 237.55,32.7 237.63,37.9 237.71,32.6 237.78,93.2 237.86,106.2 237.94,97.6 238.02,98.0 238.09,60.7 238.17,27.0 238.25,56.8 238.32,25.9 238.40,30.7 238.48,36.0 238.55,25.8 238.63,96.6 238.71,28.6 238.78,80.8 238.86,27.0 238.94,59.2 239.02,93.3 239.09,50.0 239.17,34.1 239.25,37.3 239.32,94.5 239.40,34.1 239.48,37.9 239.55,92.2 239.63,34.1 239.71,77.2 239.78,37.5 239.86,59.6 239.94,36.6 240.02,102.6 240.09,96.5 240.17,61.8 240.25,99.6 240.32,101.0 240.40,36.4 240.48,103.3 240.55,41.4 240.63,48.3 240.71,102.7 240.78,43.3 240.86,33.3 240.94,45.9 241.02,96.8 241.09,99.4 241.17,67.5 241.25,100.9 241.32,72.6 241.40,40.0 241.48,61.9 241.55,100.9 241.63,55.0 241.71,33.1 241.78,28.3 241.86,82.7 241.94,90.3 242.02,92.4 242.09,32.0 242.17,81.0 242.25,61.3 242.32,31.7 242.40,85.5 242.48,46.1 242.55,60.8 242.63,86.7 242.71,78.3 242.78,35.5 242.86,50.9 242.94,85.4 243.02,44.2 243.09,40.5 243.17,74.6 243.25,90.4 243.32,43.1 243.40,53.8 243.48,45.0 243.55,98.7 243.63,43.3 243.71,36.2 243.78,82.2 243.86,36.0 243.94,41.1 244.02,87.2 244.09,52.0 244.17,33.6 244.25,25.6 244.32,92.9 244.40,95.6 244.48,95.5 244.55,28.2 244.63,51.9 244.71,71.3 244.78,30.3 244.86,93.3 244.94,44.2 245.02,35.6 245.09,90.4 245.17,51.7 245.25,95.4 245.32,99.6 245.40,59.5 245.48,98.2 245.55,21.4 245.63,38.8 245.71,53.9 245.78,67.3 245.86,55.6 245.94,53.3 246.02,89.0 246.09,55.4 246.17,71.8 246.25,32.7 246.32,43.8 246.40,31.0 246.48,86.1 246.55,89.1 246.63,34.2 246.71,35.1 246.78,57.1 246.86,59.5 246.94,19.3 247.02,39.6 247.09,19.2 247.17,92.8 247.25,66.4 247.32,26.3 247.40,50.3 247.48,26.2 247.55,82.6 247.63,93.7 247.71,51.6 247.78,34.2 247.86,71.5 247.94,61.9 248.02,69.1 248.09,39.9 248.17,75.6 248.25,98.9 248.32,25.5 248.40,21.1 248.48,20.0 248.55,46.3 248.63,86.4 248.71,21.4 248.78,51.2 248.86,19.9 248.94,76.6 249.02,96.6 249.09,95.1 249.17,96.6 249.25,96.6 249.32,41.1 249.40,34.2 249.48,95.1 249.55,74.3 249.63,90.8 249.71,74.7 249.78,91.4 249.86,34.2 249.94,94.7 250.02,34.4 250.09,87.5 250.17,30.8 250.25,91.6 250.32,28.9 250.40,98.6 250.48,97.7 250.55,28.7 250.63,98.5 250.71,36.6 250.78,95.8 250.86,30.1 250.94,94.0 251.02,42.8 251.09,83.1 251.17,87.7 251.25,70.2 251.32,35.4 251.40,31.7 251.48,56.9 251.55,44.2 251.63,97.6 251.71,99.8 251.78,97.9 251.86,99.7 251.94,79.8 252.02,97.4 252.09,43.8 252.17,88.3 252.25,30.1 252.32,94.7 252.40,72.0 252.48,45.2 252.55,43.4 252.63,73.8 252.71,20.4 252.78,78.2 252.86,74.3 252.94,94.1 253.02,27.6 253.09,64.3 253.17,90.0 253.25,37.1 253.32,98.7 253.40,66.2 253.48,32.4 253.55,57.5 253.63,70.5 253.71,58.0 253.78,96.1 253.86,80.8 253.94,36.2 254.02,83.4 254.09,63.0 254.17,36.2 254.25,39.7 254.32,50.8 254.40,85.9 254.48,86.0 254.55,36.1 254.63,61.9 254.71,86.0 254.78,75.9 254.86,61.6 254.94,26.9 255.02,27.5 255.09,83.8 255.17,27.5 255.25,74.9 255.32,73.7 255.40,91.9 255.48,39.9 255.55,74.6 255.63,27.8 255.71,62.2 255.78,65.2 255.86,95.9 255.94,49.3 256.02,35.8 256.09,86.5 256.17,35.3 256.25,42.5 256.32,84.7 256.40,38.8 256.48,85.7 256.55,80.4 256.63,61.7 256.71,36.7 256.78,89.7 256.86,49.0 256.94,90.5 257.02,100.0 257.09,25.5 257.17,26.4 257.25,45.8 257.32,31.4 257.40,26.6 257.48,104.7 257.55,28.5 257.63,38.3 257.71,24.5 257.78,72.2 257.86,40.2 257.94,34.6 258.02,88.8 258.09,34.8 258.17,73.5 258.25,56.1 258.32,60.9 258.40,89.3 258.48,83.4 258.55,85.8 258.63,52.5 258.71,51.5 258.78,86.5 258.86,66.4 258.94,86.4 259.02,75.5 259.09,78.6 259.17,91.6 259.25,58.4 259.32,54.4 259.40,81.1 259.48,31.4 259.55,94.7 259.63,73.1 259.71,42.5 259.78,30.6 259.86,67.4 259.94,57.0 260.02,36.9 260.09,80.7 260.17,49.3 260.25,38.1 260.32,91.4 260.40,85.2 260.48,84.1 260.55,87.4 260.63,73.0 260.71,37.9 260.78,91.4 260.86,78.7 260.94,32.8 261.02,86.5 261.09,47.7 261.17,81.8 261.25,87.1 261.32,80.2 261.40,77.2 261.48,66.1 261.55,75.5 261.63,86.1 261.71,76.4 261.78,86.5 261.86,86.3" stroke="#ff8000" stroke-width="0.55" fill="none" stroke-linejoin="round"/>
<rect x="40.30" y="12.35" width="222.30" height="103.75" fill="none" stroke="#111" stroke-width="1.2"/>
<path d="M56.15,116.10v-3.0M56.15,12.35v3.0M87.59,116.10v-3.0M87.59,12.35v3.0M119.03,116.10v-3.0M119.03,12.35v3.0M150.47,116.10v-3.0M150.47,12.35v3.0M181.91,116.10v-3.0M181.91,12.35v3.0M213.35,116.10v-3.0M213.35,12.35v3.0M244.79,116.10v-3.0M244.79,12.35v3.0M40.30,38.29h3.0M262.60,38.29h-3.0M40.30,64.22h3.0M262.60,64.22h-3.0M40.30,90.16h3.0M262.60,90.16h-3.0" stroke="#111" stroke-width="1.1" fill="none"/>
<text x="56.15" y="125.90" font-size="10.2" text-anchor="middle">4</text>
<text x="87.59" y="125.90" font-size="10.2" text-anchor="middle">6</text>
<text x="119.03" y="125.90" font-size="10.2" text-anchor="middle">8</text>
<text x="150.47" y="125.90" font-size="10.2" text-anchor="middle">10</text>
<text x="181.91" y="125.90" font-size="10.2" text-anchor="middle">12</text>
<text x="213.35" y="125.90" font-size="10.2" text-anchor="middle">14</text>
<text x="244.79" y="125.90" font-size="10.2" text-anchor="middle">16</text>
<text x="37.00" y="15.50" font-size="10.2" text-anchor="end">1.0</text>
<text x="37.00" y="41.44" font-size="10.2" text-anchor="end">0.5</text>
<text x="37.00" y="67.38" font-size="10.2" text-anchor="end">0.0</text>
<text x="37.00" y="93.31" font-size="10.2" text-anchor="end">-0.5</text>
<text x="37.00" y="119.25" font-size="10.2" text-anchor="end">-1.0</text>
<text x="151.20" y="140.70" font-size="10.8" text-anchor="middle">time (ms)</text>
<text x="14.80" y="63.80" font-size="10.4" text-anchor="middle" transform="rotate(-90 14.80 63.80)">E (mV)</text>
<clipPath id="cb"><rect x="307.4" y="11.8" width="221.00" height="103.40"/></clipPath>
<path d="M307.5,74.3 308.0,73.9 308.5,73.4 309.0,72.9 309.5,72.2 310.0,71.6 310.5,70.8 311.0,70.0 311.5,69.2 312.0,68.3 312.5,67.4 313.0,66.4 313.5,65.4 314.0,64.4 314.5,63.3 315.0,62.2 315.5,61.1 316.0,60.0 316.5,58.9 317.0,57.8 317.5,56.6 318.0,55.5 318.5,54.6 319.0,53.8 319.5,53.3 320.0,53.0 320.5,53.2 321.0,53.7 321.5,54.7 322.0,56.0 322.5,57.8 323.0,60.0 323.5,62.6 324.0,65.3 324.5,68.2 325.0,71.1 325.5,73.8 326.0,76.2 326.5,78.2 327.0,79.9 327.5,81.2 328.0,81.9 328.5,82.1 329.0,81.8 329.5,81.0 330.0,79.8 330.5,78.2 331.0,76.4 331.5,74.3 332.0,72.0 332.5,69.7 333.0,67.5 333.5,65.5 334.0,63.8 334.5,62.4 335.0,61.4 335.5,60.6 336.0,60.1 336.5,59.8 337.0,59.7 337.5,59.8 338.0,60.0 338.5,60.4 339.0,60.8 339.5,61.4 340.0,62.0 340.5,62.6 341.0,63.1 341.5,63.5 342.0,63.6 342.5,63.5 343.0,63.0 343.5,62.3 344.0,61.5 344.5,60.6 345.0,59.8 345.5,59.2 346.0,58.8 346.5,58.5 347.0,58.5 347.5,58.8 348.0,59.2 348.5,60.0 349.0,60.9 349.5,62.2 350.0,63.7 350.5,65.4 351.0,67.4 351.5,69.3 352.0,71.3 352.5,73.1 353.0,74.7 353.5,76.0 354.0,76.9 354.5,77.5 355.0,77.6 355.5,77.4 356.0,76.8 356.5,75.8 357.0,74.5 357.5,73.0 358.0,71.2 358.5,69.3 359.0,67.3 359.5,65.3 360.0,63.3 360.5,61.5 361.0,59.9 361.5,58.5 362.0,57.5 362.5,56.7 363.0,56.4 363.5,56.5 364.0,56.9 364.5,57.8 365.0,59.1 365.5,60.7 366.0,62.7 366.5,65.0 367.0,67.4 367.5,69.9 368.0,72.2 368.5,74.3 369.0,75.9 369.5,77.2 370.0,78.1 370.5,78.6 371.0,78.7 371.5,78.4 372.0,77.6 372.5,76.2 373.0,74.2 373.5,71.5 374.0,68.5 374.5,65.3 375.0,62.2 375.5,59.4 376.0,57.2 376.5,55.5 377.0,54.4 377.5,53.7 378.0,53.5 378.5,53.6 379.0,54.1 379.5,54.9 380.0,56.0 380.5,57.6 381.0,59.5 381.5,61.7 382.0,64.1 382.5,66.6 383.0,69.0 383.5,71.2 384.0,73.1 384.5,74.7 385.0,76.0 385.5,76.9 386.0,77.7 386.5,78.2 387.0,78.5 387.5,78.6 388.0,78.5 388.5,78.2 389.0,77.6 389.5,76.8 390.0,75.7 390.5,74.6 391.0,73.4 391.5,72.1 392.0,70.8 392.5,69.6 393.0,68.5 393.5,67.4 394.0,66.4 394.5,65.5 395.0,64.7 395.5,64.0 396.0,63.3 396.5,62.8 397.0,62.3 397.5,61.8 398.0,61.4 398.5,61.0 399.0,60.6 399.5,60.2 400.0,59.7 400.5,59.2 401.0,58.5 401.5,57.7 402.0,56.9 402.5,55.9 403.0,54.8 403.5,53.7 404.0,52.6 404.5,51.3 405.0,50.1 405.5,48.6 406.0,47.0 406.5,45.2 407.0,43.0 407.5,40.4 408.0,37.6 408.5,34.8 409.0,31.9 409.5,29.3 410.0,27.0 410.5,24.9 411.0,23.1 411.5,21.7 412.0,20.5 412.5,19.7 413.0,19.1 413.5,18.9 414.0,18.9 414.5,19.4 415.0,20.3 415.5,21.9 416.0,24.4 416.5,27.6 417.0,31.7 417.5,36.2 418.0,41.2 418.5,46.5 419.0,51.7 419.5,56.9 420.0,61.8 420.5,66.1 421.0,69.9 421.5,73.1 422.0,75.8 422.5,78.1 423.0,80.2 423.5,81.9 424.0,83.4 424.5,84.7 425.0,85.7 425.5,86.5 426.0,87.2 426.5,87.7 427.0,88.0 427.5,88.1 428.0,88.1 428.5,88.0 429.0,87.9 429.5,87.6 430.0,87.4 430.5,87.2 431.0,87.1 431.5,87.1 432.0,87.2 432.5,87.5 433.0,88.0 433.5,88.7 434.0,89.5 434.5,90.3 435.0,91.1 435.5,91.8 436.0,92.5 436.5,93.2 437.0,94.1 437.5,95.1 438.0,96.3 438.5,97.6 439.0,98.9 439.5,100.2 440.0,101.5 440.5,102.5 441.0,103.2 441.5,103.4 442.0,103.1 442.5,102.2 443.0,100.7 443.5,98.6 444.0,95.9 444.5,92.7 445.0,89.0 445.5,84.9 446.0,80.4 446.5,75.7 447.0,71.1 447.5,66.7 448.0,62.7 448.5,59.2 449.0,56.2 449.5,53.6 450.0,51.6 450.5,50.0 451.0,49.0 451.5,48.6 452.0,48.7 452.5,49.5 453.0,50.7 453.5,52.4 454.0,54.5 454.5,57.0 455.0,59.6 455.5,62.3 456.0,64.8 456.5,67.1 457.0,69.0 457.5,70.4 458.0,71.4 458.5,71.9 459.0,72.0 459.5,71.6 460.0,70.8 460.5,69.5 461.0,67.9 461.5,65.8 462.0,63.5 462.5,61.1 463.0,58.8 463.5,56.8 464.0,55.2 464.5,54.1 465.0,53.5 465.5,53.5 466.0,54.0 466.5,55.0 467.0,56.6 467.5,58.5 468.0,60.8 468.5,63.3 469.0,66.0 469.5,68.6 470.0,71.2 470.5,73.5 471.0,75.5 471.5,77.0 472.0,78.2 472.5,79.0 473.0,79.4 473.5,79.4 474.0,79.1 474.5,78.4 475.0,77.5 475.5,76.3 476.0,74.9 476.5,73.2 477.0,71.5 477.5,69.8 478.0,68.1 478.5,66.5 479.0,65.1 479.5,63.9 480.0,62.8 480.5,61.9 481.0,61.1 481.5,60.5 482.0,59.9 482.5,59.7 483.0,59.8 483.5,60.2 484.0,61.1 484.5,62.2 485.0,63.6 485.5,65.1 486.0,66.8 486.5,68.5 487.0,70.2 487.5,71.9 488.0,73.5 488.5,74.9 489.0,76.1 489.5,77.1 490.0,77.8 490.5,78.2 491.0,78.3 491.5,78.0 492.0,77.4 492.5,76.5 493.0,75.5 493.5,74.2 494.0,72.9 494.5,71.6 495.0,70.4 495.5,69.4 496.0,68.6 496.5,68.1 497.0,67.7 497.5,67.6 498.0,67.6 498.5,67.7 499.0,68.0 499.5,68.4 500.0,69.0 500.5,69.6 501.0,70.3 501.5,70.9 502.0,71.4 502.5,71.8 503.0,72.0 503.5,72.1 504.0,72.1 504.5,71.9 505.0,71.7 505.5,71.2 506.0,70.6 506.5,69.7 507.0,68.5 507.5,67.2 508.0,65.8 508.5,64.3 509.0,62.9 509.5,61.6 510.0,60.5 510.5,59.6 511.0,58.8 511.5,58.1 512.0,57.5 512.5,57.1 513.0,56.7 513.5,56.5 514.0,56.4 514.5,56.4 515.0,56.7 515.5,57.1 516.0,57.7 516.5,58.6 517.0,59.8 517.5,61.2 518.0,62.7 518.5,64.3 519.0,65.9 519.5,67.5 520.0,69.0 520.5,70.5 521.0,71.8 521.5,73.0 522.0,74.1 522.5,75.0 523.0,75.8 523.5,76.4 524.0,76.8 524.5,77.1 525.0,77.2 525.5,77.2 526.0,77.1 526.5,76.8 527.0,76.5 527.5,76.1 528.3,75.4" stroke="#ff8000" stroke-width="1.32" fill="none" stroke-linejoin="round" clip-path="url(#cb)"/>
<rect x="307.40" y="11.80" width="221.00" height="103.40" fill="none" stroke="#111" stroke-width="1.2"/>
<path d="M325.95,115.20v-3.0M325.95,11.80v3.0M355.45,115.20v-3.0M355.45,11.80v3.0M384.95,115.20v-3.0M384.95,11.80v3.0M414.45,115.20v-3.0M414.45,11.80v3.0M443.95,115.20v-3.0M443.95,11.80v3.0M473.45,115.20v-3.0M473.45,11.80v3.0M502.95,115.20v-3.0M502.95,11.80v3.0M307.40,31.80h3.0M528.40,31.80h-3.0M307.40,59.60h3.0M528.40,59.60h-3.0M307.40,87.40h3.0M528.40,87.40h-3.0" stroke="#111" stroke-width="1.1" fill="none"/>
<text x="325.95" y="126.20" font-size="10.2" text-anchor="middle">4</text>
<text x="355.45" y="126.20" font-size="10.2" text-anchor="middle">6</text>
<text x="384.95" y="126.20" font-size="10.2" text-anchor="middle">8</text>
<text x="414.45" y="126.20" font-size="10.2" text-anchor="middle">10</text>
<text x="443.95" y="126.20" font-size="10.2" text-anchor="middle">12</text>
<text x="473.45" y="126.20" font-size="10.2" text-anchor="middle">14</text>
<text x="502.95" y="126.20" font-size="10.2" text-anchor="middle">16</text>
<text x="303.50" y="34.95" font-size="10.2" text-anchor="end">4</text>
<text x="303.50" y="62.75" font-size="10.2" text-anchor="end">0</text>
<text x="303.50" y="90.55" font-size="10.2" text-anchor="end">-4</text>
<text x="303.50" y="118.35" font-size="10.2" text-anchor="end">-8</text>
<text x="417.80" y="140.80" font-size="10.8" text-anchor="middle">time (ms)</text>
<text x="291.30" y="62.70" font-size="10.8" text-anchor="middle" transform="rotate(-90 291.30 62.70)">E(mV)</text>
<clipPath id="c00"><rect x="60.8" y="171.1" width="206.80" height="51.10"/></clipPath>
<path d="M60.8,203.6 61.3,201.2 61.8,198.5 62.3,196.0 62.8,193.7 63.3,192.1 63.8,191.4 64.3,191.5 64.8,192.3 65.3,193.6 65.8,195.2 66.3,196.9 66.8,198.3 67.3,199.4 67.8,200.0 68.3,199.9 68.8,199.0 69.3,197.6 69.8,195.9 70.3,194.3 70.8,192.9 71.3,192.1 71.8,192.1 72.3,193.0 72.8,194.6 73.3,196.7 73.8,199.0 74.3,201.2 74.8,202.9 75.3,204.0 75.8,204.2 76.3,203.5 76.8,201.9 77.3,199.5 77.8,196.4 78.3,193.0 78.8,189.8 79.3,187.1 79.8,185.4 80.3,184.6 80.8,184.7 81.3,185.7 81.8,187.7 82.3,190.9 82.8,194.9 83.3,199.1 83.8,202.8 84.3,205.6 84.8,207.1 85.3,207.3 85.8,205.9 86.3,203.7 86.8,200.9 87.3,198.1 87.8,195.5 88.3,193.2 88.8,191.5 89.3,190.4 89.8,190.2 90.3,190.7 90.8,191.8 91.3,193.2 91.8,194.6 92.3,195.9 92.8,196.9 93.3,197.4 93.8,197.3 94.3,196.9 94.8,196.4 95.3,196.1 95.8,195.9 96.3,195.8 96.8,195.8 97.3,195.7 97.8,195.7 98.3,195.8 98.8,196.0 99.3,196.2 99.8,196.7 100.3,197.3 100.8,198.0 101.3,198.8 101.8,199.7 102.3,200.5 102.8,201.3 103.3,202.0 103.8,202.5 104.3,202.8 104.8,202.8 105.3,202.4 105.8,201.6 106.3,200.3 106.8,198.2 107.3,195.4 107.8,192.0 108.3,188.7 108.8,185.9 109.3,184.2 109.8,183.5 110.3,183.8 110.8,185.2 111.3,187.6 111.8,191.0 112.3,195.2 112.8,199.5 113.3,203.5 113.8,206.7 114.3,209.0 114.8,210.4 115.3,210.8 115.8,210.3 116.3,208.8 116.8,206.5 117.3,203.4 117.8,199.7 118.3,195.7 118.8,192.0 119.3,188.8 119.8,186.3 120.3,184.5 120.8,183.2 121.3,182.6 121.8,182.7 122.3,183.7 122.8,185.5 123.3,188.0 123.8,191.2 124.3,194.7 124.8,198.4 125.3,201.8 125.8,204.6 126.3,206.5 126.8,207.4 127.3,207.2 127.8,206.0 128.3,203.9 128.8,200.9 129.3,197.4 129.8,193.7 130.3,190.3 130.8,187.7 131.3,186.1 131.8,185.7 132.3,186.4 132.8,188.1 133.3,190.6 133.8,193.6 134.3,197.0 134.8,200.2 135.3,203.0 135.8,204.9 136.3,205.8 136.8,205.5 137.3,203.8 137.8,201.2 138.3,197.8 138.8,194.2 139.3,191.0 139.8,188.6 140.3,187.6 140.8,187.7 141.3,188.9 141.8,190.7 142.3,193.2 142.8,195.9 143.3,198.8 143.8,201.5 144.3,203.6 144.8,204.8 145.3,204.7 145.8,203.7 146.3,202.0 146.8,199.9 147.3,197.6 147.8,195.3 148.3,193.2 148.8,191.3 149.3,189.9 149.8,189.1 150.3,189.2 150.8,190.1 151.3,191.6 151.8,193.6 152.3,195.8 152.8,198.0 153.3,200.0 153.8,201.7 154.3,202.8 154.8,203.2 155.3,202.6 155.8,201.2 156.3,199.3 156.8,197.0 157.3,194.7 157.8,192.6 158.3,190.9 158.8,189.9 159.3,189.5 159.8,189.7 160.3,190.4 160.8,191.4 161.3,192.8 161.8,194.3 162.3,195.8 162.8,197.2 163.3,198.2 163.8,198.9 164.3,199.2 164.8,199.2 165.3,198.9 165.8,198.4 166.3,197.8 166.8,197.3 167.3,196.9 167.8,196.7 168.3,196.5 168.8,196.3 169.3,196.3 169.8,196.3 170.3,196.3 170.8,196.4 171.3,196.4 171.8,196.5 172.3,196.5 172.8,196.6 173.3,196.6 173.8,196.5 174.3,196.5 174.8,196.4 175.3,196.4 175.8,196.3 176.3,196.3 176.8,196.3 177.3,196.3 177.8,196.3 178.3,196.3 178.8,196.3 179.3,196.3 179.8,196.3 180.3,196.3 180.8,196.3 181.3,196.3 181.8,196.3 182.3,196.3 182.8,196.2 183.3,196.2 183.8,196.2 184.3,196.2 184.8,196.2 185.3,196.2 185.8,196.3 186.3,196.4 186.8,196.5 187.3,196.5 187.8,196.5 188.3,196.3 188.8,196.1 189.3,195.8 189.8,195.6 190.3,195.7 190.8,196.0 191.3,196.5 191.8,197.1 192.3,197.7 192.8,198.1 193.3,198.2 193.8,198.0 194.3,197.4 194.8,196.5 195.3,195.5 195.8,194.3 196.3,193.3 196.8,192.5 197.3,192.1 197.8,192.0 198.3,192.2 198.8,192.9 199.3,194.0 199.8,195.4 200.3,197.0 200.8,198.4 201.3,199.4 201.8,199.9 202.3,199.9 202.8,199.3 203.3,198.3 203.8,197.1 204.3,195.7 204.8,194.5 205.3,193.5 205.8,193.0 206.3,192.9 206.8,193.4 207.3,194.2 207.8,195.2 208.3,196.4 208.8,197.5 209.3,198.5 209.8,199.4 210.3,200.1 210.8,200.5 211.3,200.7 211.8,200.6 212.3,200.2 212.8,199.4 213.3,198.1 213.8,196.3 214.3,194.3 214.8,192.3 215.3,190.4 215.8,188.7 216.3,187.4 216.8,186.5 217.3,185.9 217.8,185.8 218.3,186.4 218.8,187.6 219.3,189.9 219.8,193.3 220.3,197.4 220.8,201.6 221.3,205.2 221.8,207.9 222.3,209.7 222.8,210.4 223.3,210.0 223.8,208.3 224.3,205.3 224.8,200.9 225.3,195.9 225.8,191.1 226.3,187.2 226.8,184.3 227.3,182.4 227.8,181.4 228.3,181.1 228.8,181.6 229.3,182.8 229.8,184.5 230.3,186.8 230.8,189.5 231.3,192.4 231.8,195.4 232.3,198.3 232.8,201.0 233.3,203.5 233.8,205.7 234.3,207.5 234.8,208.8 235.3,209.5 235.8,209.5 236.3,208.7 236.8,207.1 237.3,204.6 237.8,201.5 238.3,197.9 238.8,194.3 239.3,190.9 239.8,188.1 240.3,186.0 240.8,184.4 241.3,183.6 241.8,183.4 242.3,184.0 242.8,185.4 243.3,187.7 243.8,190.9 244.3,194.8 244.8,198.8 245.3,202.6 245.8,205.8 246.3,208.0 246.8,209.1 247.3,208.8 247.8,207.1 248.3,204.3 248.8,200.7 249.3,196.6 249.8,192.5 250.3,189.0 250.8,186.3 251.3,184.6 251.8,184.2 252.3,184.9 252.8,186.8 253.3,189.5 253.8,192.8 254.3,196.2 254.8,199.3 255.3,201.7 255.8,203.4 256.3,204.2 256.8,204.3 257.3,203.6 257.8,202.5 258.3,201.1 258.8,199.6 259.3,198.2 259.8,196.9 260.3,196.0 260.8,195.3 261.3,194.9 261.8,194.8 262.3,194.8 262.8,195.0 263.3,195.3 263.8,195.7 264.3,196.1 264.8,196.4 265.3,196.8 265.8,197.0 266.3,197.1 266.8,197.1 267.6,196.8" stroke="#ff8000" stroke-width="1.32" fill="none" stroke-linejoin="round" clip-path="url(#c00)"/>
<rect x="60.80" y="171.10" width="206.80" height="51.10" fill="none" stroke="#111" stroke-width="1.2"/>
<path d="M78.80,222.20v-3.0M78.80,171.10v3.0M106.30,222.20v-3.0M106.30,171.10v3.0M133.80,222.20v-3.0M133.80,171.10v3.0M161.30,222.20v-3.0M161.30,171.10v3.0M188.80,222.20v-3.0M188.80,171.10v3.0M216.30,222.20v-3.0M216.30,171.10v3.0M243.80,222.20v-3.0M243.80,171.10v3.0M60.80,196.65h3.0M267.60,196.65h-3.0" stroke="#111" stroke-width="1.1" fill="none"/>
<text x="57.20" y="174.04" font-size="9.6" text-anchor="end">2</text>
<text x="57.20" y="199.59" font-size="9.6" text-anchor="end">0</text>
<text x="57.20" y="225.14" font-size="9.6" text-anchor="end">-2</text>
<text x="45.00" y="196.65" font-size="9.7" text-anchor="middle" transform="rotate(-90 45.00 196.65)">IMF1</text>
<clipPath id="c01"><rect x="60.8" y="234.9" width="206.80" height="51.30"/></clipPath>
<path d="M60.8,266.3 61.3,265.3 61.8,263.8 62.3,262.1 62.8,260.2 63.3,258.1 63.8,256.1 64.3,254.1 64.8,252.2 65.3,250.6 65.8,249.2 66.3,248.2 66.8,247.4 67.3,247.0 67.8,246.9 68.3,247.1 68.8,247.8 69.3,248.9 69.8,250.6 70.3,252.7 70.8,255.1 71.3,257.4 71.8,259.5 72.3,261.4 72.8,263.1 73.3,264.6 73.8,265.9 74.3,267.1 74.8,268.1 75.3,269.0 75.8,269.7 76.3,270.4 76.8,271.0 77.3,271.4 77.8,271.8 78.3,272.1 78.8,272.3 79.3,272.4 79.8,272.4 80.3,272.2 80.8,271.9 81.3,271.4 81.8,270.8 82.3,270.0 82.8,269.1 83.3,267.8 83.8,266.2 84.3,264.1 84.8,261.7 85.3,259.1 85.8,256.4 86.3,253.9 86.8,251.6 87.3,249.6 87.8,247.9 88.3,246.6 88.8,245.8 89.3,245.6 89.8,245.8 90.3,246.8 90.8,248.7 91.3,251.6 91.8,255.0 92.3,258.5 92.8,261.6 93.3,264.2 93.8,266.2 94.3,267.3 94.8,267.4 95.3,266.5 95.8,264.6 96.3,261.9 96.8,258.8 97.3,255.9 97.8,253.8 98.3,252.6 98.8,251.8 99.3,251.3 99.8,251.1 100.3,251.5 100.8,252.3 101.3,253.6 101.8,255.1 102.3,256.7 102.8,258.3 103.3,259.7 103.8,260.9 104.3,261.7 104.8,262.3 105.3,262.7 105.8,263.0 106.3,263.0 106.8,262.6 107.3,262.1 107.8,261.4 108.3,260.5 108.8,259.7 109.3,258.8 109.8,257.9 110.3,257.1 110.8,256.4 111.3,255.8 111.8,255.3 112.3,254.9 112.8,254.6 113.3,254.4 113.8,254.3 114.3,254.3 114.8,254.4 115.3,254.6 115.8,254.9 116.3,255.3 116.8,255.8 117.3,256.3 117.8,257.0 118.3,257.6 118.8,258.3 119.3,258.9 119.8,259.5 120.3,260.0 120.8,260.5 121.3,260.9 121.8,261.3 122.3,261.6 122.8,261.9 123.3,262.1 123.8,262.3 124.3,262.3 124.8,262.3 125.3,262.1 125.8,261.9 126.3,261.6 126.8,261.2 127.3,260.7 127.8,260.3 128.3,259.7 128.8,259.2 129.3,258.6 129.8,258.1 130.3,257.5 130.8,257.0 131.3,256.4 131.8,255.9 132.3,255.4 132.8,255.0 133.3,254.6 133.8,254.3 134.3,254.1 134.8,254.0 135.3,254.1 135.8,254.3 136.3,254.7 136.8,255.2 137.3,255.8 137.8,256.6 138.3,257.4 138.8,258.2 139.3,258.9 139.8,259.6 140.3,260.2 140.8,260.8 141.3,261.3 141.8,261.7 142.3,262.1 142.8,262.4 143.3,262.6 143.8,262.4 144.3,262.0 144.8,261.3 145.3,260.4 145.8,259.4 146.3,258.2 146.8,257.1 147.3,256.0 147.8,254.9 148.3,253.8 148.8,252.9 149.3,252.1 149.8,251.5 150.3,251.0 150.8,250.6 151.3,250.4 151.8,250.5 152.3,250.7 152.8,251.3 153.3,252.2 153.8,253.4 154.3,255.0 154.8,256.8 155.3,258.6 155.8,260.5 156.3,262.2 156.8,263.8 157.3,265.3 157.8,266.6 158.3,267.8 158.8,268.7 159.3,269.5 159.8,270.1 160.3,270.4 160.8,270.5 161.3,270.3 161.8,269.7 162.3,268.6 162.8,267.2 163.3,265.4 163.8,263.2 164.3,260.8 164.8,258.3 165.3,255.7 165.8,253.1 166.3,250.8 166.8,248.7 167.3,246.9 167.8,245.6 168.3,244.7 168.8,244.3 169.3,244.6 169.8,245.5 170.3,247.2 170.8,249.9 171.3,253.1 171.8,256.6 172.3,259.8 172.8,262.4 173.3,264.7 173.8,266.5 174.3,267.9 174.8,268.9 175.3,269.3 175.8,268.9 176.3,267.8 176.8,266.0 177.3,263.6 177.8,261.0 178.3,258.5 178.8,256.3 179.3,254.6 179.8,253.2 180.3,252.4 180.8,252.1 181.3,252.4 181.8,253.3 182.3,254.5 182.8,255.8 183.3,257.2 183.8,258.4 184.3,259.4 184.8,260.1 185.3,260.5 185.8,260.6 186.3,260.4 186.8,259.9 187.3,259.1 187.8,258.2 188.3,257.3 188.8,256.7 189.3,256.5 189.8,256.5 190.3,256.9 190.8,257.5 191.3,258.2 191.8,258.9 192.3,259.6 192.8,260.2 193.3,260.6 193.8,260.8 194.3,260.7 194.8,260.2 195.3,259.4 195.8,258.4 196.3,257.3 196.8,256.1 197.3,255.0 197.8,254.1 198.3,253.4 198.8,252.9 199.3,252.8 199.8,253.1 200.3,253.8 200.8,254.8 201.3,256.2 201.8,257.8 202.3,259.4 202.8,261.0 203.3,262.4 203.8,263.6 204.3,264.6 204.8,265.4 205.3,266.0 205.8,266.2 206.3,265.9 206.8,265.1 207.3,263.9 207.8,262.3 208.3,260.5 208.8,258.6 209.3,256.7 209.8,254.8 210.3,253.2 210.8,251.8 211.3,250.6 211.8,249.6 212.3,249.0 212.8,248.6 213.3,248.5 213.8,248.6 214.3,249.1 214.8,250.0 215.3,251.2 215.8,252.7 216.3,254.5 216.8,256.4 217.3,258.4 217.8,260.4 218.3,262.3 218.8,264.1 219.3,265.8 219.8,267.2 220.3,268.5 220.8,269.5 221.3,270.4 221.8,271.0 222.3,271.4 222.8,271.5 223.3,270.9 223.8,270.0 224.3,268.6 224.8,267.0 225.3,265.1 225.8,263.2 226.3,261.1 226.8,259.0 227.3,256.9 227.8,254.8 228.3,252.8 228.8,250.8 229.3,248.9 229.8,247.0 230.3,245.2 230.8,243.6 231.3,242.1 231.8,241.0 232.3,240.2 232.8,239.8 233.3,239.6 233.8,239.5 234.3,239.7 234.8,240.1 235.3,240.8 235.8,242.1 236.3,243.7 236.8,245.8 237.3,248.1 237.8,250.7 238.3,253.3 238.8,256.1 239.3,259.0 239.8,261.9 240.3,264.9 240.8,267.8 241.3,270.6 241.8,273.0 242.3,275.0 242.8,276.8 243.3,278.1 243.8,279.2 244.3,279.9 244.8,280.4 245.3,280.7 245.8,280.7 246.3,280.6 246.8,280.3 247.3,279.8 247.8,279.2 248.3,278.5 248.8,277.8 249.3,277.1 249.8,276.6 250.3,276.1 250.8,275.7 251.3,275.4 251.8,275.0 252.3,274.6 252.8,274.0 253.3,273.3 253.8,272.5 254.3,271.4 254.8,270.1 255.3,268.6 255.8,266.9 256.3,264.9 256.8,262.7 257.3,260.4 257.8,257.9 258.3,255.4 258.8,252.8 259.3,250.3 259.8,247.8 260.3,245.6 260.8,243.6 261.3,241.9 261.8,240.6 262.3,239.6 262.8,239.1 263.3,239.1 263.8,239.7 264.3,240.8 264.8,242.6 265.3,244.9 265.8,247.6 266.3,250.5 266.8,253.3 267.6,257.0" stroke="#ff8000" stroke-width="1.32" fill="none" stroke-linejoin="round" clip-path="url(#c01)"/>
<rect x="60.80" y="234.90" width="206.80" height="51.30" fill="none" stroke="#111" stroke-width="1.2"/>
<path d="M78.80,286.20v-3.0M78.80,234.90v3.0M106.30,286.20v-3.0M106.30,234.90v3.0M133.80,286.20v-3.0M133.80,234.90v3.0M161.30,286.20v-3.0M161.30,234.90v3.0M188.80,286.20v-3.0M188.80,234.90v3.0M216.30,286.20v-3.0M216.30,234.90v3.0M243.80,286.20v-3.0M243.80,234.90v3.0M60.80,258.22h3.0M267.60,258.22h-3.0M60.80,281.54h3.0M267.60,281.54h-3.0" stroke="#111" stroke-width="1.1" fill="none"/>
<text x="57.20" y="237.84" font-size="9.6" text-anchor="end">1</text>
<text x="57.20" y="261.15" font-size="9.6" text-anchor="end">0</text>
<text x="57.20" y="284.47" font-size="9.6" text-anchor="end">-1</text>
<text x="45.00" y="260.55" font-size="9.7" text-anchor="middle" transform="rotate(-90 45.00 260.55)">IMF2</text>
<clipPath id="c02"><rect x="60.8" y="299.1" width="206.80" height="51.10"/></clipPath>
<path d="M60.7,321.7 61.2,321.6 61.7,321.4 62.2,321.3 62.7,321.2 63.2,321.1 63.7,320.9 64.2,320.8 64.7,320.7 65.2,320.6 65.7,320.5 66.2,320.3 66.7,320.2 67.2,320.1 67.7,320.0 68.2,319.9 68.7,319.7 69.2,319.6 69.7,319.5 70.2,319.3 70.7,319.2 71.2,319.1 71.7,318.9 72.2,318.8 72.7,318.7 73.2,318.6 73.7,318.5 74.2,318.4 74.7,318.4 75.2,318.4 75.7,318.4 76.2,318.4 76.7,318.5 77.2,318.7 77.7,318.8 78.2,319.0 78.7,319.3 79.2,319.5 79.7,319.8 80.2,320.2 80.7,320.5 81.2,320.9 81.7,321.3 82.2,321.7 82.7,322.2 83.2,322.6 83.7,323.1 84.2,323.6 84.7,324.1 85.2,324.6 85.7,325.1 86.2,325.6 86.7,326.2 87.2,326.7 87.7,327.3 88.2,327.8 88.7,328.3 89.2,328.9 89.7,329.4 90.2,329.9 90.7,330.4 91.2,330.9 91.7,331.4 92.2,331.9 92.7,332.4 93.2,332.8 93.7,333.2 94.2,333.6 94.7,333.9 95.2,334.2 95.7,334.4 96.2,334.5 96.7,334.6 97.2,334.7 97.7,334.6 98.2,334.5 98.7,334.3 99.2,334.0 99.7,333.7 100.2,333.3 100.7,332.8 101.2,332.3 101.7,331.7 102.2,331.1 102.7,330.4 103.2,329.7 103.7,329.0 104.2,328.2 104.7,327.4 105.2,326.6 105.7,325.8 106.2,325.0 106.7,324.2 107.2,323.4 107.7,322.5 108.2,321.8 108.7,321.0 109.2,320.2 109.7,319.5 110.2,318.9 110.7,318.2 111.2,317.6 111.7,317.1 112.2,316.6 112.7,316.1 113.2,315.6 113.7,315.2 114.2,314.8 114.7,314.4 115.2,314.0 115.7,313.6 116.2,313.3 116.7,312.9 117.2,312.6 117.7,312.3 118.2,312.0 118.7,311.8 119.2,311.5 119.7,311.3 120.2,311.0 120.7,310.8 121.2,310.6 121.7,310.4 122.2,310.3 122.7,310.1 123.2,310.0 123.7,309.9 124.2,309.8 124.7,309.7 125.2,309.6 125.7,309.5 126.2,309.5 126.7,309.4 127.2,309.4 127.7,309.4 128.2,309.4 128.7,309.5 129.2,309.5 129.7,309.6 130.2,309.6 130.7,309.7 131.2,309.8 131.7,309.9 132.2,310.1 132.7,310.2 133.2,310.4 133.7,310.6 134.2,310.9 134.7,311.1 135.2,311.4 135.7,311.7 136.2,312.1 136.7,312.5 137.2,312.9 137.7,313.3 138.2,313.8 138.7,314.4 139.2,314.9 139.7,315.6 140.2,316.2 140.7,316.9 141.2,317.6 141.7,318.4 142.2,319.2 142.7,320.0 143.2,320.8 143.7,321.7 144.2,322.5 144.7,323.4 145.2,324.2 145.7,325.0 146.2,325.8 146.7,326.6 147.2,327.4 147.7,328.1 148.2,328.8 148.7,329.5 149.2,330.1 149.7,330.7 150.2,331.3 150.7,331.8 151.2,332.3 151.7,332.8 152.2,333.3 152.7,333.7 153.2,334.1 153.7,334.5 154.2,334.8 154.7,335.1 155.2,335.4 155.7,335.7 156.2,336.0 156.7,336.2 157.2,336.4 157.7,336.6 158.2,336.8 158.7,336.9 159.2,337.1 159.7,337.2 160.2,337.3 160.7,337.5 161.2,337.6 161.7,337.7 162.2,337.8 162.7,338.0 163.2,338.1 163.7,338.2 164.2,338.4 164.7,338.5 165.2,338.7 165.7,338.9 166.2,339.0 166.7,339.2 167.2,339.4 167.7,339.6 168.2,339.8 168.7,339.9 169.2,340.1 169.7,340.3 170.2,340.4 170.7,340.5 171.2,340.6 171.7,340.7 172.2,340.7 172.7,340.7 173.2,340.6 173.7,340.5 174.2,340.3 174.7,340.1 175.2,339.8 175.7,339.5 176.2,339.2 176.7,338.8 177.2,338.3 177.7,337.8 178.2,337.3 178.7,336.8 179.2,336.3 179.7,335.7 180.2,335.1 180.7,334.5 181.2,333.9 181.7,333.3 182.2,332.6 182.7,332.0 183.2,331.4 183.7,330.8 184.2,330.2 184.7,329.7 185.2,329.1 185.7,328.6 186.2,328.1 186.7,327.6 187.2,327.2 187.7,326.7 188.2,326.3 188.7,325.8 189.2,325.4 189.7,324.9 190.2,324.4 190.7,323.9 191.2,323.3 191.7,322.8 192.2,322.1 192.7,321.5 193.2,320.9 193.7,320.2 194.2,319.6 194.7,318.9 195.2,318.3 195.7,317.6 196.2,317.0 196.7,316.4 197.2,315.8 197.7,315.3 198.2,314.8 198.7,314.3 199.2,313.9 199.7,313.5 200.2,313.2 200.7,312.9 201.2,312.7 201.7,312.6 202.2,312.5 202.7,312.6 203.2,312.7 203.7,312.9 204.2,313.1 204.7,313.4 205.2,313.8 205.7,314.2 206.2,314.7 206.7,315.1 207.2,315.7 207.7,316.2 208.2,316.8 208.7,317.3 209.2,317.9 209.7,318.5 210.2,319.1 210.7,319.6 211.2,320.2 211.7,320.7 212.2,321.2 212.7,321.7 213.2,322.1 213.7,322.5 214.2,323.0 214.7,323.3 215.2,323.7 215.7,324.1 216.2,324.4 216.7,324.7 217.2,325.0 217.7,325.3 218.2,325.5 218.7,325.8 219.2,326.0 219.7,326.2 220.2,326.4 220.7,326.6 221.2,326.8 221.7,327.0 222.2,327.1 222.7,327.3 223.2,327.4 223.7,327.5 224.2,327.6 224.7,327.7 225.2,327.8 225.7,327.9 226.2,328.0 226.7,328.1 227.2,328.2 227.7,328.3 228.2,328.3 228.7,328.4 229.2,328.5 229.7,328.6 230.2,328.6 230.7,328.7 231.2,328.8 231.7,328.8 232.2,328.9 232.7,328.9 233.2,329.0 233.7,329.0 234.2,329.1 234.7,329.1 235.2,329.1 235.7,329.2 236.2,329.2 236.7,329.2 237.2,329.2 237.7,329.2 238.2,329.2 238.7,329.2 239.2,329.2 239.7,329.1 240.2,329.1 240.7,329.1 241.2,329.0 241.7,328.9 242.2,328.8 242.7,328.7 243.2,328.6 243.7,328.5 244.2,328.4 244.7,328.2 245.2,328.1 245.7,327.9 246.2,327.7 246.7,327.5 247.2,327.3 247.7,327.1 248.2,326.9 248.7,326.7 249.2,326.5 249.7,326.3 250.2,326.0 250.7,325.8 251.2,325.6 251.7,325.4 252.2,325.1 252.7,324.9 253.2,324.7 253.7,324.5 254.2,324.3 254.7,324.1 255.2,323.9 255.7,323.7 256.2,323.6 256.7,323.4 257.2,323.3 257.7,323.1 258.2,323.0 258.7,322.9 259.2,322.8 259.7,322.7 260.2,322.7 260.7,322.6 261.2,322.6 261.7,322.6 262.2,322.7 262.7,322.7 263.2,322.8 263.7,322.9 264.2,323.0 264.7,323.2 265.2,323.3 265.7,323.5 266.2,323.8 266.7,324.0 267.6,324.6" stroke="#ff8000" stroke-width="1.32" fill="none" stroke-linejoin="round" clip-path="url(#c02)"/>
<rect x="60.80" y="299.10" width="206.80" height="51.10" fill="none" stroke="#111" stroke-width="1.2"/>
<path d="M78.80,350.20v-3.0M78.80,299.10v3.0M106.30,350.20v-3.0M106.30,299.10v3.0M133.80,350.20v-3.0M133.80,299.10v3.0M161.30,350.20v-3.0M161.30,299.10v3.0M188.80,350.20v-3.0M188.80,299.10v3.0M216.30,350.20v-3.0M216.30,299.10v3.0M243.80,350.20v-3.0M243.80,299.10v3.0M60.80,305.49h3.0M267.60,305.49h-3.0M60.80,324.65h3.0M267.60,324.65h-3.0M60.80,343.81h3.0M267.60,343.81h-3.0" stroke="#111" stroke-width="1.1" fill="none"/>
<text x="57.20" y="308.42" font-size="9.6" text-anchor="end">3</text>
<text x="57.20" y="327.59" font-size="9.6" text-anchor="end">0</text>
<text x="57.20" y="346.75" font-size="9.6" text-anchor="end">-3</text>
<text x="45.00" y="324.65" font-size="9.7" text-anchor="middle" transform="rotate(-90 45.00 324.65)">IMF3</text>
<text x="78.80" y="360.90" font-size="9.6" text-anchor="middle">4</text>
<text x="106.30" y="360.90" font-size="9.6" text-anchor="middle">6</text>
<text x="133.80" y="360.90" font-size="9.6" text-anchor="middle">8</text>
<text x="161.30" y="360.90" font-size="9.6" text-anchor="middle">10</text>
<text x="188.80" y="360.90" font-size="9.6" text-anchor="middle">12</text>
<text x="216.30" y="360.90" font-size="9.6" text-anchor="middle">14</text>
<text x="243.80" y="360.90" font-size="9.6" text-anchor="middle">16</text>
<text x="161.40" y="375.20" font-size="10.45" text-anchor="middle">time (ms)</text>
<clipPath id="c10"><rect x="313.85" y="171.1" width="206.85" height="51.10"/></clipPath>
<path d="M314.0,212.0 314.5,212.2 315.0,212.4 315.5,212.6 316.0,212.7 316.5,212.9 317.0,213.0 317.5,213.1 318.0,213.2 318.5,213.3 319.0,213.4 319.5,213.4 320.0,213.4 320.5,213.5 321.0,213.4 321.5,213.4 322.0,213.4 322.5,213.3 323.0,213.3 323.5,213.2 324.0,213.1 324.5,213.0 325.0,212.9 325.5,212.8 326.0,212.6 326.5,212.5 327.0,212.3 327.5,212.1 328.0,211.9 328.5,211.7 329.0,211.5 329.5,211.3 330.0,211.1 330.5,210.8 331.0,210.6 331.5,210.3 332.0,210.0 332.5,209.7 333.0,209.4 333.5,209.1 334.0,208.8 334.5,208.5 335.0,208.2 335.5,207.9 336.0,207.5 336.5,207.2 337.0,206.8 337.5,206.5 338.0,206.1 338.5,205.7 339.0,205.3 339.5,205.0 340.0,204.6 340.5,204.2 341.0,203.8 341.5,203.4 342.0,203.0 342.5,202.6 343.0,202.2 343.5,201.7 344.0,201.3 344.5,200.9 345.0,200.5 345.5,200.1 346.0,199.6 346.5,199.2 347.0,198.8 347.5,198.3 348.0,197.9 348.5,197.5 349.0,197.1 349.5,196.6 350.0,196.2 350.5,195.8 351.0,195.3 351.5,194.9 352.0,194.5 352.5,194.1 353.0,193.7 353.5,193.2 354.0,192.8 354.5,192.4 355.0,192.0 355.5,191.6 356.0,191.2 356.5,190.8 357.0,190.4 357.5,190.0 358.0,189.6 358.5,189.3 359.0,188.9 359.5,188.5 360.0,188.2 360.5,187.8 361.0,187.5 361.5,187.1 362.0,186.8 362.5,186.5 363.0,186.2 363.5,185.9 364.0,185.6 364.5,185.3 365.0,185.0 365.5,184.7 366.0,184.5 366.5,184.2 367.0,184.0 367.5,183.7 368.0,183.5 368.5,183.3 369.0,183.1 369.5,182.9 370.0,182.7 370.5,182.6 371.0,182.4 371.5,182.3 372.0,182.1 372.5,182.0 373.0,181.9 373.5,181.8 374.0,181.7 374.5,181.7 375.0,181.6 375.5,181.6 376.0,181.5 376.5,181.5 377.0,181.5 377.5,181.5 378.0,181.5 378.5,181.5 379.0,181.5 379.5,181.6 380.0,181.6 380.5,181.7 381.0,181.7 381.5,181.8 382.0,181.9 382.5,182.0 383.0,182.1 383.5,182.2 384.0,182.3 384.5,182.5 385.0,182.6 385.5,182.8 386.0,183.0 386.5,183.1 387.0,183.3 387.5,183.5 388.0,183.7 388.5,184.0 389.0,184.2 389.5,184.4 390.0,184.7 390.5,184.9 391.0,185.2 391.5,185.5 392.0,185.7 392.5,186.0 393.0,186.3 393.5,186.6 394.0,186.9 394.5,187.3 395.0,187.6 395.5,187.9 396.0,188.3 396.5,188.6 397.0,189.0 397.5,189.3 398.0,189.7 398.5,190.0 399.0,190.4 399.5,190.8 400.0,191.2 400.5,191.5 401.0,191.9 401.5,192.3 402.0,192.7 402.5,193.1 403.0,193.5 403.5,193.9 404.0,194.2 404.5,194.6 405.0,195.0 405.5,195.4 406.0,195.8 406.5,196.2 407.0,196.6 407.5,196.9 408.0,197.3 408.5,197.7 409.0,198.1 409.5,198.4 410.0,198.8 410.5,199.2 411.0,199.5 411.5,199.9 412.0,200.2 412.5,200.5 413.0,200.9 413.5,201.2 414.0,201.5 414.5,201.8 415.0,202.1 415.5,202.4 416.0,202.7 416.5,203.0 417.0,203.3 417.5,203.5 418.0,203.8 418.5,204.0 419.0,204.3 419.5,204.5 420.0,204.7 420.5,204.9 421.0,205.1 421.5,205.3 422.0,205.5 422.5,205.7 423.0,205.8 423.5,206.0 424.0,206.1 424.5,206.3 425.0,206.4 425.5,206.5 426.0,206.7 426.5,206.8 427.0,206.9 427.5,207.0 428.0,207.0 428.5,207.1 429.0,207.2 429.5,207.2 430.0,207.3 430.5,207.3 431.0,207.4 431.5,207.4 432.0,207.4 432.5,207.4 433.0,207.4 433.5,207.4 434.0,207.4 434.5,207.4 435.0,207.3 435.5,207.3 436.0,207.3 436.5,207.2 437.0,207.1 437.5,207.1 438.0,207.0 438.5,206.9 439.0,206.8 439.5,206.7 440.0,206.6 440.5,206.5 441.0,206.3 441.5,206.2 442.0,206.0 442.5,205.9 443.0,205.7 443.5,205.6 444.0,205.4 444.5,205.2 445.0,205.0 445.5,204.8 446.0,204.6 446.5,204.4 447.0,204.2 447.5,204.0 448.0,203.8 448.5,203.6 449.0,203.3 449.5,203.1 450.0,202.9 450.5,202.6 451.0,202.4 451.5,202.1 452.0,201.9 452.5,201.6 453.0,201.4 453.5,201.1 454.0,200.9 454.5,200.6 455.0,200.4 455.5,200.1 456.0,199.9 456.5,199.6 457.0,199.3 457.5,199.1 458.0,198.8 458.5,198.6 459.0,198.3 459.5,198.0 460.0,197.8 460.5,197.5 461.0,197.3 461.5,197.0 462.0,196.8 462.5,196.6 463.0,196.3 463.5,196.1 464.0,195.8 464.5,195.6 465.0,195.4 465.5,195.2 466.0,195.0 466.5,194.8 467.0,194.5 467.5,194.3 468.0,194.2 468.5,194.0 469.0,193.8 469.5,193.6 470.0,193.4 470.5,193.3 471.0,193.1 471.5,193.0 472.0,192.8 472.5,192.7 473.0,192.6 473.5,192.5 474.0,192.4 474.5,192.3 475.0,192.2 475.5,192.1 476.0,192.0 476.5,191.9 477.0,191.8 477.5,191.8 478.0,191.7 478.5,191.6 479.0,191.6 479.5,191.6 480.0,191.5 480.5,191.5 481.0,191.5 481.5,191.4 482.0,191.4 482.5,191.4 483.0,191.4 483.5,191.4 484.0,191.4 484.5,191.5 485.0,191.5 485.5,191.5 486.0,191.5 486.5,191.6 487.0,191.6 487.5,191.6 488.0,191.7 488.5,191.7 489.0,191.8 489.5,191.9 490.0,191.9 490.5,192.0 491.0,192.1 491.5,192.2 492.0,192.2 492.5,192.3 493.0,192.4 493.5,192.5 494.0,192.6 494.5,192.7 495.0,192.8 495.5,192.9 496.0,193.1 496.5,193.2 497.0,193.3 497.5,193.4 498.0,193.5 498.5,193.7 499.0,193.8 499.5,193.9 500.0,194.1 500.5,194.2 501.0,194.4 501.5,194.5 502.0,194.7 502.5,194.8 503.0,195.0 503.5,195.1 504.0,195.3 504.5,195.4 505.0,195.6 505.5,195.7 506.0,195.9 506.5,196.0 507.0,196.2 507.5,196.3 508.0,196.5 508.5,196.6 509.0,196.7 509.5,196.9 510.0,197.0 510.5,197.1 511.0,197.3 511.5,197.4 512.0,197.5 512.5,197.6 513.0,197.8 513.5,197.9 514.0,198.0 514.5,198.1 515.0,198.2 515.5,198.3 516.0,198.3 516.5,198.4 517.0,198.5 517.5,198.6 518.0,198.6 518.5,198.7 519.0,198.7 519.5,198.7 520.0,198.8 520.5,198.8 521.2,198.8" stroke="#ff8000" stroke-width="1.32" fill="none" stroke-linejoin="round" clip-path="url(#c10)"/>
<rect x="313.85" y="171.10" width="206.85" height="51.10" fill="none" stroke="#111" stroke-width="1.2"/>
<path d="M331.50,222.20v-3.0M331.50,171.10v3.0M359.00,222.20v-3.0M359.00,171.10v3.0M386.50,222.20v-3.0M386.50,171.10v3.0M414.00,222.20v-3.0M414.00,171.10v3.0M441.50,222.20v-3.0M441.50,171.10v3.0M469.00,222.20v-3.0M469.00,171.10v3.0M496.50,222.20v-3.0M496.50,171.10v3.0M313.85,177.49h3.0M520.70,177.49h-3.0M313.85,196.65h3.0M520.70,196.65h-3.0M313.85,215.81h3.0M520.70,215.81h-3.0" stroke="#111" stroke-width="1.1" fill="none"/>
<text x="310.25" y="180.42" font-size="9.6" text-anchor="end">3</text>
<text x="310.25" y="199.59" font-size="9.6" text-anchor="end">0</text>
<text x="310.25" y="218.75" font-size="9.6" text-anchor="end">-3</text>
<text x="298.05" y="196.65" font-size="9.7" text-anchor="middle" transform="rotate(-90 298.05 196.65)">IMF4</text>
<clipPath id="c11"><rect x="313.85" y="234.9" width="206.85" height="51.30"/></clipPath>
<path d="M314.0,252.6 314.5,252.6 315.0,252.6 315.5,252.6 316.0,252.6 316.5,252.6 317.0,252.6 317.5,252.6 318.0,252.6 318.5,252.7 319.0,252.7 319.5,252.7 320.0,252.7 320.5,252.7 321.0,252.7 321.5,252.7 322.0,252.7 322.5,252.8 323.0,252.8 323.5,252.8 324.0,252.8 324.5,252.8 325.0,252.9 325.5,252.9 326.0,252.9 326.5,252.9 327.0,253.0 327.5,253.0 328.0,253.0 328.5,253.0 329.0,253.1 329.5,253.1 330.0,253.1 330.5,253.2 331.0,253.2 331.5,253.2 332.0,253.3 332.5,253.3 333.0,253.4 333.5,253.4 334.0,253.4 334.5,253.5 335.0,253.5 335.5,253.6 336.0,253.6 336.5,253.7 337.0,253.7 337.5,253.8 338.0,253.8 338.5,253.9 339.0,253.9 339.5,254.0 340.0,254.0 340.5,254.1 341.0,254.1 341.5,254.2 342.0,254.3 342.5,254.3 343.0,254.4 343.5,254.5 344.0,254.5 344.5,254.6 345.0,254.7 345.5,254.7 346.0,254.8 346.5,254.9 347.0,255.0 347.5,255.0 348.0,255.1 348.5,255.2 349.0,255.3 349.5,255.3 350.0,255.4 350.5,255.5 351.0,255.6 351.5,255.7 352.0,255.7 352.5,255.8 353.0,255.9 353.5,256.0 354.0,256.1 354.5,256.2 355.0,256.3 355.5,256.4 356.0,256.5 356.5,256.6 357.0,256.6 357.5,256.7 358.0,256.8 358.5,256.9 359.0,257.0 359.5,257.1 360.0,257.2 360.5,257.3 361.0,257.4 361.5,257.5 362.0,257.6 362.5,257.7 363.0,257.8 363.5,257.9 364.0,258.0 364.5,258.2 365.0,258.3 365.5,258.4 366.0,258.5 366.5,258.6 367.0,258.7 367.5,258.8 368.0,258.9 368.5,259.0 369.0,259.1 369.5,259.2 370.0,259.3 370.5,259.4 371.0,259.6 371.5,259.7 372.0,259.8 372.5,259.9 373.0,260.0 373.5,260.1 374.0,260.2 374.5,260.3 375.0,260.4 375.5,260.6 376.0,260.7 376.5,260.8 377.0,260.9 377.5,261.0 378.0,261.1 378.5,261.2 379.0,261.3 379.5,261.4 380.0,261.5 380.5,261.7 381.0,261.8 381.5,261.9 382.0,262.0 382.5,262.1 383.0,262.2 383.5,262.3 384.0,262.4 384.5,262.5 385.0,262.6 385.5,262.7 386.0,262.8 386.5,263.0 387.0,263.1 387.5,263.2 388.0,263.3 388.5,263.4 389.0,263.5 389.5,263.6 390.0,263.7 390.5,263.8 391.0,263.9 391.5,264.0 392.0,264.1 392.5,264.2 393.0,264.3 393.5,264.4 394.0,264.5 394.5,264.5 395.0,264.6 395.5,264.7 396.0,264.8 396.5,264.9 397.0,265.0 397.5,265.1 398.0,265.2 398.5,265.3 399.0,265.3 399.5,265.4 400.0,265.5 400.5,265.6 401.0,265.7 401.5,265.8 402.0,265.8 402.5,265.9 403.0,266.0 403.5,266.1 404.0,266.1 404.5,266.2 405.0,266.3 405.5,266.3 406.0,266.4 406.5,266.5 407.0,266.5 407.5,266.6 408.0,266.7 408.5,266.7 409.0,266.8 409.5,266.8 410.0,266.9 410.5,266.9 411.0,267.0 411.5,267.0 412.0,267.1 412.5,267.1 413.0,267.2 413.5,267.2 414.0,267.3 414.5,267.3 415.0,267.4 415.5,267.4 416.0,267.4 416.5,267.5 417.0,267.5 417.5,267.5 418.0,267.6 418.5,267.6 419.0,267.6 419.5,267.6 420.0,267.7 420.5,267.7 421.0,267.7 421.5,267.7 422.0,267.7 422.5,267.8 423.0,267.8 423.5,267.8 424.0,267.8 424.5,267.8 425.0,267.8 425.5,267.8 426.0,267.8 426.5,267.8 427.0,267.8 427.5,267.8 428.0,267.8 428.5,267.8 429.0,267.8 429.5,267.8 430.0,267.8 430.5,267.7 431.0,267.7 431.5,267.7 432.0,267.7 432.5,267.7 433.0,267.6 433.5,267.6 434.0,267.6 434.5,267.6 435.0,267.5 435.5,267.5 436.0,267.5 436.5,267.4 437.0,267.4 437.5,267.4 438.0,267.3 438.5,267.3 439.0,267.2 439.5,267.2 440.0,267.1 440.5,267.1 441.0,267.0 441.5,267.0 442.0,266.9 442.5,266.9 443.0,266.8 443.5,266.8 444.0,266.7 444.5,266.6 445.0,266.6 445.5,266.5 446.0,266.4 446.5,266.4 447.0,266.3 447.5,266.2 448.0,266.1 448.5,266.1 449.0,266.0 449.5,265.9 450.0,265.8 450.5,265.7 451.0,265.7 451.5,265.6 452.0,265.5 452.5,265.4 453.0,265.3 453.5,265.2 454.0,265.1 454.5,265.0 455.0,264.9 455.5,264.8 456.0,264.7 456.5,264.6 457.0,264.5 457.5,264.4 458.0,264.3 458.5,264.2 459.0,264.1 459.5,264.0 460.0,263.9 460.5,263.8 461.0,263.7 461.5,263.6 462.0,263.5 462.5,263.4 463.0,263.3 463.5,263.2 464.0,263.0 464.5,262.9 465.0,262.8 465.5,262.7 466.0,262.6 466.5,262.5 467.0,262.3 467.5,262.2 468.0,262.1 468.5,262.0 469.0,261.9 469.5,261.7 470.0,261.6 470.5,261.5 471.0,261.4 471.5,261.2 472.0,261.1 472.5,261.0 473.0,260.9 473.5,260.7 474.0,260.6 474.5,260.5 475.0,260.4 475.5,260.2 476.0,260.1 476.5,260.0 477.0,259.9 477.5,259.7 478.0,259.6 478.5,259.5 479.0,259.4 479.5,259.2 480.0,259.1 480.5,259.0 481.0,258.9 481.5,258.7 482.0,258.6 482.5,258.5 483.0,258.4 483.5,258.2 484.0,258.1 484.5,258.0 485.0,257.9 485.5,257.8 486.0,257.6 486.5,257.5 487.0,257.4 487.5,257.3 488.0,257.2 488.5,257.0 489.0,256.9 489.5,256.8 490.0,256.7 490.5,256.6 491.0,256.5 491.5,256.4 492.0,256.3 492.5,256.2 493.0,256.1 493.5,255.9 494.0,255.8 494.5,255.7 495.0,255.6 495.5,255.5 496.0,255.4 496.5,255.4 497.0,255.3 497.5,255.2 498.0,255.1 498.5,255.0 499.0,254.9 499.5,254.8 500.0,254.7 500.5,254.7 501.0,254.6 501.5,254.5 502.0,254.4 502.5,254.3 503.0,254.3 503.5,254.2 504.0,254.1 504.5,254.1 505.0,254.0 505.5,254.0 506.0,253.9 506.5,253.9 507.0,253.8 507.5,253.8 508.0,253.7 508.5,253.7 509.0,253.6 509.5,253.6 510.0,253.6 510.5,253.5 511.0,253.5 511.5,253.5 512.0,253.4 512.5,253.4 513.0,253.4 513.5,253.4 514.0,253.4 514.5,253.4 515.0,253.4 515.5,253.4 516.0,253.4 516.5,253.4 517.0,253.4 517.5,253.4 518.0,253.4 518.5,253.5 519.0,253.5 519.5,253.5 520.0,253.5 520.5,253.6 521.2,253.6" stroke="#ff8000" stroke-width="1.32" fill="none" stroke-linejoin="round" clip-path="url(#c11)"/>
<rect x="313.85" y="234.90" width="206.85" height="51.30" fill="none" stroke="#111" stroke-width="1.2"/>
<path d="M331.50,286.20v-3.0M331.50,234.90v3.0M359.00,286.20v-3.0M359.00,234.90v3.0M386.50,286.20v-3.0M386.50,234.90v3.0M414.00,286.20v-3.0M414.00,234.90v3.0M441.50,286.20v-3.0M441.50,234.90v3.0M469.00,286.20v-3.0M469.00,234.90v3.0M496.50,286.20v-3.0M496.50,234.90v3.0M313.85,241.31h3.0M520.70,241.31h-3.0M313.85,260.55h3.0M520.70,260.55h-3.0M313.85,279.79h3.0M520.70,279.79h-3.0" stroke="#111" stroke-width="1.1" fill="none"/>
<text x="310.25" y="244.25" font-size="9.6" text-anchor="end">3</text>
<text x="310.25" y="263.49" font-size="9.6" text-anchor="end">0</text>
<text x="310.25" y="282.72" font-size="9.6" text-anchor="end">-3</text>
<text x="298.05" y="260.55" font-size="9.7" text-anchor="middle" transform="rotate(-90 298.05 260.55)">IMF5</text>
<clipPath id="c12"><rect x="313.85" y="299.1" width="206.85" height="51.10"/></clipPath>
<path d="M314.0,316.7 314.5,316.7 315.0,316.7 315.5,316.8 316.0,316.8 316.5,316.9 317.0,316.9 317.5,317.0 318.0,317.0 318.5,317.0 319.0,317.1 319.5,317.1 320.0,317.2 320.5,317.2 321.0,317.3 321.5,317.3 322.0,317.4 322.5,317.4 323.0,317.4 323.5,317.5 324.0,317.5 324.5,317.6 325.0,317.6 325.5,317.7 326.0,317.7 326.5,317.8 327.0,317.8 327.5,317.8 328.0,317.9 328.5,317.9 329.0,318.0 329.5,318.0 330.0,318.1 330.5,318.1 331.0,318.2 331.5,318.2 332.0,318.3 332.5,318.3 333.0,318.3 333.5,318.4 334.0,318.4 334.5,318.5 335.0,318.5 335.5,318.6 336.0,318.6 336.5,318.7 337.0,318.7 337.5,318.8 338.0,318.8 338.5,318.9 339.0,318.9 339.5,318.9 340.0,319.0 340.5,319.0 341.0,319.1 341.5,319.1 342.0,319.2 342.5,319.2 343.0,319.3 343.5,319.3 344.0,319.4 344.5,319.4 345.0,319.5 345.5,319.5 346.0,319.6 346.5,319.6 347.0,319.7 347.5,319.7 348.0,319.7 348.5,319.8 349.0,319.8 349.5,319.9 350.0,319.9 350.5,320.0 351.0,320.0 351.5,320.1 352.0,320.1 352.5,320.2 353.0,320.2 353.5,320.3 354.0,320.3 354.5,320.4 355.0,320.4 355.5,320.5 356.0,320.5 356.5,320.6 357.0,320.6 357.5,320.7 358.0,320.7 358.5,320.8 359.0,320.8 359.5,320.9 360.0,320.9 360.5,321.0 361.0,321.0 361.5,321.1 362.0,321.1 362.5,321.2 363.0,321.2 363.5,321.2 364.0,321.3 364.5,321.3 365.0,321.4 365.5,321.4 366.0,321.5 366.5,321.5 367.0,321.6 367.5,321.6 368.0,321.7 368.5,321.7 369.0,321.8 369.5,321.8 370.0,321.9 370.5,321.9 371.0,322.0 371.5,322.0 372.0,322.1 372.5,322.1 373.0,322.2 373.5,322.2 374.0,322.3 374.5,322.3 375.0,322.4 375.5,322.4 376.0,322.5 376.5,322.5 377.0,322.6 377.5,322.6 378.0,322.7 378.5,322.7 379.0,322.8 379.5,322.8 380.0,322.9 380.5,322.9 381.0,323.0 381.5,323.0 382.0,323.1 382.5,323.1 383.0,323.2 383.5,323.2 384.0,323.3 384.5,323.3 385.0,323.4 385.5,323.4 386.0,323.5 386.5,323.5 387.0,323.6 387.5,323.6 388.0,323.7 388.5,323.7 389.0,323.8 389.5,323.8 390.0,323.9 390.5,323.9 391.0,324.0 391.5,324.0 392.0,324.1 392.5,324.1 393.0,324.2 393.5,324.2 394.0,324.3 394.5,324.3 395.0,324.4 395.5,324.4 396.0,324.5 396.5,324.5 397.0,324.6 397.5,324.6 398.0,324.7 398.5,324.7 399.0,324.8 399.5,324.8 400.0,324.9 400.5,324.9 401.0,325.0 401.5,325.0 402.0,325.1 402.5,325.1 403.0,325.2 403.5,325.2 404.0,325.3 404.5,325.3 405.0,325.4 405.5,325.4 406.0,325.5 406.5,325.5 407.0,325.6 407.5,325.6 408.0,325.7 408.5,325.7 409.0,325.8 409.5,325.8 410.0,325.9 410.5,325.9 411.0,326.0 411.5,326.0 412.0,326.1 412.5,326.1 413.0,326.2 413.5,326.2 414.0,326.3 414.5,326.3 415.0,326.4 415.5,326.4 416.0,326.5 416.5,326.5 417.0,326.6 417.5,326.6 418.0,326.7 418.5,326.7 419.0,326.8 419.5,326.8 420.0,326.9 420.5,326.9 421.0,327.0 421.5,327.0 422.0,327.1 422.5,327.1 423.0,327.2 423.5,327.2 424.0,327.3 424.5,327.3 425.0,327.4 425.5,327.4 426.0,327.5 426.5,327.5 427.0,327.6 427.5,327.6 428.0,327.7 428.5,327.7 429.0,327.8 429.5,327.8 430.0,327.9 430.5,327.9 431.0,328.0 431.5,328.0 432.0,328.1 432.5,328.1 433.0,328.2 433.5,328.2 434.0,328.3 434.5,328.3 435.0,328.4 435.5,328.4 436.0,328.5 436.5,328.5 437.0,328.6 437.5,328.6 438.0,328.7 438.5,328.7 439.0,328.8 439.5,328.8 440.0,328.9 440.5,328.9 441.0,328.9 441.5,329.0 442.0,329.0 442.5,329.1 443.0,329.1 443.5,329.2 444.0,329.2 444.5,329.3 445.0,329.3 445.5,329.4 446.0,329.4 446.5,329.5 447.0,329.5 447.5,329.6 448.0,329.6 448.5,329.7 449.0,329.7 449.5,329.8 450.0,329.8 450.5,329.8 451.0,329.9 451.5,329.9 452.0,330.0 452.5,330.0 453.0,330.1 453.5,330.1 454.0,330.2 454.5,330.2 455.0,330.3 455.5,330.3 456.0,330.4 456.5,330.4 457.0,330.5 457.5,330.5 458.0,330.5 458.5,330.6 459.0,330.6 459.5,330.7 460.0,330.7 460.5,330.8 461.0,330.8 461.5,330.9 462.0,330.9 462.5,331.0 463.0,331.0 463.5,331.0 464.0,331.1 464.5,331.1 465.0,331.2 465.5,331.2 466.0,331.3 466.5,331.3 467.0,331.4 467.5,331.4 468.0,331.4 468.5,331.5 469.0,331.5 469.5,331.6 470.0,331.6 470.5,331.7 471.0,331.7 471.5,331.8 472.0,331.8 472.5,331.8 473.0,331.9 473.5,331.9 474.0,332.0 474.5,332.0 475.0,332.1 475.5,332.1 476.0,332.1 476.5,332.2 477.0,332.2 477.5,332.3 478.0,332.3 478.5,332.4 479.0,332.4 479.5,332.4 480.0,332.5 480.5,332.5 481.0,332.6 481.5,332.6 482.0,332.7 482.5,332.7 483.0,332.7 483.5,332.8 484.0,332.8 484.5,332.9 485.0,332.9 485.5,332.9 486.0,333.0 486.5,333.0 487.0,333.1 487.5,333.1 488.0,333.2 488.5,333.2 489.0,333.2 489.5,333.3 490.0,333.3 490.5,333.4 491.0,333.4 491.5,333.4 492.0,333.5 492.5,333.5 493.0,333.6 493.5,333.6 494.0,333.6 494.5,333.7 495.0,333.7 495.5,333.7 496.0,333.8 496.5,333.8 497.0,333.9 497.5,333.9 498.0,333.9 498.5,334.0 499.0,334.0 499.5,334.1 500.0,334.1 500.5,334.1 501.0,334.2 501.5,334.2 502.0,334.2 502.5,334.3 503.0,334.3 503.5,334.4 504.0,334.4 504.5,334.4 505.0,334.5 505.5,334.5 506.0,334.5 506.5,334.6 507.0,334.6 507.5,334.6 508.0,334.7 508.5,334.7 509.0,334.8 509.5,334.8 510.0,334.8 510.5,334.9 511.0,334.9 511.5,334.9 512.0,335.0 512.5,335.0 513.0,335.0 513.5,335.1 514.0,335.1 514.5,335.1 515.0,335.2 515.5,335.2 516.0,335.2 516.5,335.3 517.0,335.3 517.5,335.3 518.0,335.4 518.5,335.4 519.0,335.4 519.5,335.5 520.0,335.5 520.5,335.5 521.2,335.6" stroke="#ff8000" stroke-width="1.32" fill="none" stroke-linejoin="round" clip-path="url(#c12)"/>
<rect x="313.85" y="299.10" width="206.85" height="51.10" fill="none" stroke="#111" stroke-width="1.2"/>
<path d="M331.50,350.20v-3.0M331.50,299.10v3.0M359.00,350.20v-3.0M359.00,299.10v3.0M386.50,350.20v-3.0M386.50,299.10v3.0M414.00,350.20v-3.0M414.00,299.10v3.0M441.50,350.20v-3.0M441.50,299.10v3.0M469.00,350.20v-3.0M469.00,299.10v3.0M496.50,350.20v-3.0M496.50,299.10v3.0M313.85,324.65h3.0M520.70,324.65h-3.0" stroke="#111" stroke-width="1.1" fill="none"/>
<text x="310.25" y="302.04" font-size="9.6" text-anchor="end">2</text>
<text x="310.25" y="327.59" font-size="9.6" text-anchor="end">0</text>
<text x="310.25" y="353.14" font-size="9.6" text-anchor="end">-2</text>
<text x="298.05" y="324.65" font-size="9.7" text-anchor="middle" transform="rotate(-90 298.05 324.65)">r</text>
<text x="331.50" y="360.90" font-size="9.6" text-anchor="middle">4</text>
<text x="359.00" y="360.90" font-size="9.6" text-anchor="middle">6</text>
<text x="386.50" y="360.90" font-size="9.6" text-anchor="middle">8</text>
<text x="414.00" y="360.90" font-size="9.6" text-anchor="middle">10</text>
<text x="441.50" y="360.90" font-size="9.6" text-anchor="middle">12</text>
<text x="469.00" y="360.90" font-size="9.6" text-anchor="middle">14</text>
<text x="496.50" y="360.90" font-size="9.6" text-anchor="middle">16</text>
<text x="417.30" y="375.20" font-size="10.45" text-anchor="middle">time (ms)</text>
<clipPath id="cd"><rect x="172.0" y="399.35" width="214.85" height="99.05"/></clipPath>
<path d="M171.8,453.8 172.3,453.6 172.8,453.4 173.3,453.2 173.8,453.0 174.3,452.8 174.8,452.6 175.3,452.4 175.8,452.1 176.3,451.9 176.8,451.7 177.3,451.5 177.8,451.2 178.3,451.0 178.8,450.8 179.3,450.6 179.8,450.3 180.3,450.1 180.8,449.9 181.3,449.7 181.8,449.5 182.3,449.3 182.8,449.1 183.3,448.9 183.8,448.7 184.3,448.6 184.8,448.4 185.3,448.3 185.8,448.1 186.3,448.0 186.8,447.9 187.3,447.8 187.8,447.7 188.3,447.6 188.8,447.6 189.3,447.5 189.8,447.5 190.3,447.5 190.8,447.5 191.3,447.5 191.8,447.6 192.3,447.6 192.8,447.7 193.3,447.8 193.8,447.9 194.3,448.1 194.8,448.2 195.3,448.4 195.8,448.6 196.3,448.8 196.8,449.1 197.3,449.3 197.8,449.6 198.3,449.9 198.8,450.3 199.3,450.6 199.8,450.9 200.3,451.3 200.8,451.6 201.3,452.0 201.8,452.3 202.3,452.7 202.8,453.0 203.3,453.4 203.8,453.7 204.3,454.0 204.8,454.3 205.3,454.6 205.8,454.8 206.3,455.1 206.8,455.3 207.3,455.5 207.8,455.7 208.3,455.8 208.8,456.0 209.3,456.1 209.8,456.2 210.3,456.3 210.8,456.3 211.3,456.4 211.8,456.4 212.3,456.4 212.8,456.3 213.3,456.3 213.8,456.2 214.3,456.0 214.8,455.9 215.3,455.7 215.8,455.5 216.3,455.2 216.8,454.9 217.3,454.6 217.8,454.3 218.3,454.0 218.8,453.6 219.3,453.3 219.8,452.9 220.3,452.5 220.8,452.1 221.3,451.8 221.8,451.4 222.3,451.1 222.8,450.7 223.3,450.4 223.8,450.1 224.3,449.8 224.8,449.5 225.3,449.3 225.8,449.1 226.3,448.9 226.8,448.8 227.3,448.7 227.8,448.7 228.3,448.7 228.8,448.8 229.3,448.9 229.8,449.1 230.3,449.3 230.8,449.5 231.3,449.8 231.8,450.1 232.3,450.5 232.8,450.9 233.3,451.3 233.8,451.7 234.3,452.1 234.8,452.6 235.3,453.1 235.8,453.5 236.3,454.0 236.8,454.5 237.3,455.0 237.8,455.4 238.3,455.9 238.8,456.3 239.3,456.8 239.8,457.2 240.3,457.6 240.8,457.9 241.3,458.3 241.8,458.6 242.3,458.9 242.8,459.1 243.3,459.3 243.8,459.4 244.3,459.5 244.8,459.6 245.3,459.5 245.8,459.5 246.3,459.3 246.8,459.1 247.3,458.9 247.8,458.5 248.3,458.1 248.8,457.6 249.3,457.0 249.8,456.4 250.3,455.6 250.8,454.8 251.3,453.8 251.8,452.8 252.3,451.6 252.8,450.4 253.3,449.0 253.8,447.6 254.3,446.0 254.8,444.4 255.3,442.8 255.8,441.1 256.3,439.3 256.8,437.6 257.3,435.9 257.8,434.2 258.3,432.6 258.8,431.1 259.3,429.6 259.8,428.1 260.3,426.8 260.8,425.5 261.3,424.3 261.8,423.2 262.3,422.2 262.8,421.2 263.3,420.3 263.8,419.5 264.3,418.8 264.8,418.1 265.3,417.6 265.8,417.1 266.3,416.6 266.8,416.3 267.3,416.0 267.8,415.8 268.3,415.6 268.8,415.5 269.3,415.5 269.8,415.6 270.3,415.7 270.8,415.9 271.3,416.1 271.8,416.5 272.3,416.9 272.8,417.5 273.3,418.2 273.8,419.0 274.3,420.0 274.8,421.1 275.3,422.2 275.8,423.6 276.3,425.0 276.8,426.5 277.3,428.1 277.8,429.7 278.3,431.5 278.8,433.3 279.3,435.2 279.8,437.2 280.3,439.1 280.8,441.2 281.3,443.2 281.8,445.3 282.3,447.4 282.8,449.5 283.3,451.7 283.8,453.8 284.3,455.9 284.8,458.0 285.3,460.1 285.8,462.1 286.3,464.1 286.8,466.0 287.3,467.9 287.8,469.8 288.3,471.6 288.8,473.3 289.3,474.9 289.8,476.4 290.3,477.9 290.8,479.2 291.3,480.5 291.8,481.7 292.3,482.7 292.8,483.6 293.3,484.4 293.8,485.1 294.3,485.7 294.8,486.2 295.3,486.6 295.8,486.9 296.3,487.2 296.8,487.4 297.3,487.5 297.8,487.5 298.3,487.5 298.8,487.4 299.3,487.3 299.8,487.0 300.3,486.7 300.8,486.3 301.3,485.9 301.8,485.3 302.3,484.6 302.8,483.9 303.3,483.1 303.8,482.2 304.3,481.1 304.8,480.0 305.3,478.8 305.8,477.5 306.3,476.1 306.8,474.6 307.3,473.1 307.8,471.5 308.3,469.8 308.8,468.2 309.3,466.5 309.8,464.9 310.3,463.3 310.8,461.7 311.3,460.2 311.8,458.7 312.3,457.4 312.8,456.0 313.3,454.8 313.8,453.6 314.3,452.4 314.8,451.3 315.3,450.3 315.8,449.4 316.3,448.5 316.8,447.6 317.3,446.8 317.8,446.1 318.3,445.5 318.8,444.8 319.3,444.3 319.8,443.8 320.3,443.3 320.8,442.9 321.3,442.5 321.8,442.2 322.3,442.0 322.8,441.8 323.3,441.6 323.8,441.5 324.3,441.4 324.8,441.3 325.3,441.4 325.8,441.4 326.3,441.5 326.8,441.6 327.3,441.8 327.8,442.0 328.3,442.2 328.8,442.5 329.3,442.8 329.8,443.1 330.3,443.5 330.8,443.9 331.3,444.3 331.8,444.8 332.3,445.2 332.8,445.7 333.3,446.2 333.8,446.8 334.3,447.3 334.8,447.8 335.3,448.4 335.8,448.9 336.3,449.5 336.8,450.0 337.3,450.6 337.8,451.1 338.3,451.7 338.8,452.2 339.3,452.8 339.8,453.3 340.3,453.8 340.8,454.3 341.3,454.8 341.8,455.3 342.3,455.7 342.8,456.2 343.3,456.6 343.8,457.0 344.3,457.4 344.8,457.8 345.3,458.2 345.8,458.5 346.3,458.9 346.8,459.2 347.3,459.5 347.8,459.8 348.3,460.0 348.8,460.3 349.3,460.5 349.8,460.7 350.3,460.9 350.8,461.0 351.3,461.2 351.8,461.3 352.3,461.4 352.8,461.5 353.3,461.5 353.8,461.6 354.3,461.6 354.8,461.6 355.3,461.6 355.8,461.6 356.3,461.6 356.8,461.6 357.3,461.5 357.8,461.4 358.3,461.3 358.8,461.2 359.3,461.1 359.8,461.0 360.3,460.9 360.8,460.7 361.3,460.6 361.8,460.4 362.3,460.3 362.8,460.1 363.3,459.9 363.8,459.7 364.3,459.5 364.8,459.3 365.3,459.1 365.8,458.9 366.3,458.6 366.8,458.4 367.3,458.2 367.8,457.9 368.3,457.7 368.8,457.5 369.3,457.2 369.8,457.0 370.3,456.7 370.8,456.5 371.3,456.2 371.8,456.0 372.3,455.7 372.8,455.5 373.3,455.2 373.8,455.0 374.3,454.7 374.8,454.5 375.3,454.2 375.8,454.0 376.3,453.8 376.8,453.5 377.3,453.3 377.8,453.1 378.3,452.9 378.8,452.7 379.3,452.5 379.8,452.3 380.3,452.1 380.8,451.9 381.3,451.8 381.8,451.6 382.3,451.5 382.8,451.3 383.3,451.2 383.8,451.1 384.3,451.0 384.8,450.9 385.3,450.8 385.8,450.8 386.3,450.7 387.0,450.7" stroke="#ff8000" stroke-width="1.32" fill="none" stroke-linejoin="round" clip-path="url(#cd)"/>
<rect x="172.00" y="399.35" width="214.85" height="99.05" fill="none" stroke="#111" stroke-width="1.2"/>
<path d="M190.20,498.40v-3.0M190.20,399.35v3.0M218.84,498.40v-3.0M218.84,399.35v3.0M247.48,498.40v-3.0M247.48,399.35v3.0M276.12,498.40v-3.0M276.12,399.35v3.0M304.76,498.40v-3.0M304.76,399.35v3.0M333.40,498.40v-3.0M333.40,399.35v3.0M362.04,498.40v-3.0M362.04,399.35v3.0M172.00,419.20h3.0M386.85,419.20h-3.0M172.00,445.60h3.0M386.85,445.60h-3.0M172.00,472.00h3.0M386.85,472.00h-3.0" stroke="#111" stroke-width="1.1" fill="none"/>
<text x="190.20" y="509.60" font-size="10.2" text-anchor="middle">4</text>
<text x="218.84" y="509.60" font-size="10.2" text-anchor="middle">6</text>
<text x="247.48" y="509.60" font-size="10.2" text-anchor="middle">8</text>
<text x="276.12" y="509.60" font-size="10.2" text-anchor="middle">10</text>
<text x="304.76" y="509.60" font-size="10.2" text-anchor="middle">12</text>
<text x="333.40" y="509.60" font-size="10.2" text-anchor="middle">14</text>
<text x="362.04" y="509.60" font-size="10.2" text-anchor="middle">16</text>
<text x="168.40" y="422.35" font-size="10.2" text-anchor="end">4</text>
<text x="168.40" y="448.75" font-size="10.2" text-anchor="end">0</text>
<text x="168.40" y="475.15" font-size="10.2" text-anchor="end">-4</text>
<text x="168.40" y="501.55" font-size="10.2" text-anchor="end">-8</text>
<text x="277.00" y="521.70" font-size="10.6" text-anchor="middle">time (ms)</text>
<text x="155.50" y="448.40" font-size="10.6" text-anchor="middle" transform="rotate(-90 155.50 448.40)">E(mV)</text>
<text x="133.70" y="159.10" font-size="12.7" text-anchor="middle" font-family="'Liberation Serif', 'Times New Roman', serif" fill="#000" stroke="none">(<tspan style="font-weight:700">a</tspan>)</text>
<text x="404.20" y="159.00" font-size="12.7" text-anchor="middle" font-family="'Liberation Serif', 'Times New Roman', serif" fill="#000" stroke="none">(<tspan style="font-weight:700">b</tspan>)</text>
<text x="278.40" y="393.10" font-size="12.7" text-anchor="middle" font-family="'Liberation Serif', 'Times New Roman', serif" fill="#000" stroke="none">(<tspan style="font-weight:700">c</tspan>)</text>
<text x="278.60" y="539.90" font-size="12.7" text-anchor="middle" font-family="'Liberation Serif', 'Times New Roman', serif" fill="#000" stroke="none">(<tspan style="font-weight:700">d</tspan>)</text>
</svg>
</body></html>
